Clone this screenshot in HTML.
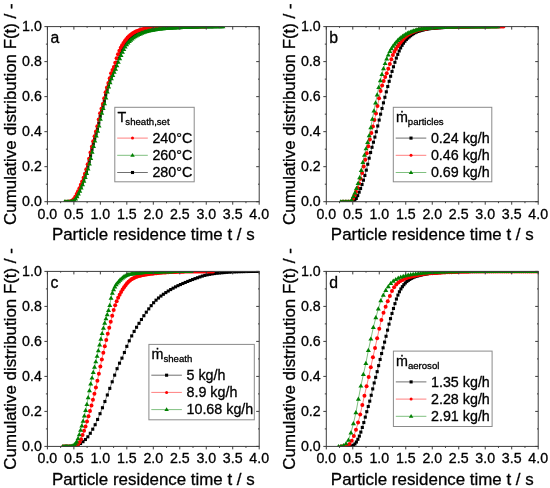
<!DOCTYPE html>
<html><head><meta charset="utf-8"><title>Cumulative distribution</title>
<style>html,body{margin:0;padding:0;background:#fff;} svg text{font-family:"Liberation Sans", Arial, Helvetica, sans-serif;fill:#000;stroke:#000;stroke-width:0.3px;} body{width:550px;height:488px;overflow:hidden;}</style>
</head><body>
<svg width="550" height="488" viewBox="0 0 550 488" style="display:block"><rect width="550" height="488" fill="#fff"/><clipPath id="cpa"><rect x="47.4" y="26.6" width="211.80" height="175.10"/></clipPath><g clip-path="url(#cpa)"><path d="M67.15 201.70 L68.53 201.70 L69.90 201.67 L71.28 201.40 L72.66 200.86 L74.03 199.65 L75.41 197.93 L76.79 195.44 L78.16 192.63 L79.54 189.71 L80.92 186.52 L82.29 183.14 L83.67 179.58 L85.05 175.72 L86.42 171.45 L87.80 166.77 L89.18 161.66 L90.55 155.72 L91.93 149.52 L93.31 143.98 L94.68 138.71 L96.06 133.78 L97.44 128.90 L98.81 123.04 L100.19 116.27 L101.57 110.90 L102.94 106.45 L104.32 101.31 L105.70 95.15 L107.07 89.74 L108.45 85.03 L109.83 80.78 L111.20 76.96 L112.58 73.42 L113.96 69.95 L115.33 66.33 L116.71 62.45 L118.09 58.52 L119.46 54.81 L120.84 51.59 L122.22 48.78 L123.60 46.26 L124.97 44.09 L126.35 42.28 L127.73 40.62 L129.10 39.13 L130.48 37.81 L131.86 36.67 L133.23 35.72 L134.61 34.84 L135.99 34.04 L137.36 33.32 L138.74 32.66 L140.12 32.08 L141.49 31.56 L142.87 31.11 L144.25 30.70 L145.62 30.32 L147.00 29.98 L148.38 29.66 L149.75 29.38 L151.13 29.12 L152.51 28.90 L153.88 28.70 L155.26 28.50 L156.64 28.32 L158.01 28.16 L159.39 28.01 L160.77 27.87 L162.14 27.76 L163.52 27.68 L164.90 27.61 L166.27 27.55 L167.65 27.49 L169.03 27.43 L170.40 27.38 L171.78 27.32 L173.16 27.27 L174.53 27.22 L175.91 27.17 L177.29 27.12 L178.66 27.07 L180.04 27.03 L181.42 26.99 L182.79 26.95 L184.17 26.91 L185.55 26.87 L186.92 26.84 L188.30 26.81 L189.68 26.78 L191.05 26.75 L192.43 26.72 L193.81 26.70 L195.18 26.68 L196.56 26.66 L197.94 26.65 L199.31 26.63 L200.69 26.62 L202.07 26.61 L203.44 26.61 L204.82 26.60 L206.20 26.60 L207.57 26.60 L208.95 26.60 L210.33 26.60 L211.70 26.60 L213.08 26.60" fill="none" stroke="#000000" stroke-width="0.5"/><g fill="#000000"><rect x="65.60" y="200.15" width="3.1" height="3.1"/><rect x="66.98" y="200.15" width="3.1" height="3.1"/><rect x="68.35" y="200.12" width="3.1" height="3.1"/><rect x="69.73" y="199.85" width="3.1" height="3.1"/><rect x="71.11" y="199.31" width="3.1" height="3.1"/><rect x="72.48" y="198.10" width="3.1" height="3.1"/><rect x="73.86" y="196.38" width="3.1" height="3.1"/><rect x="75.24" y="193.89" width="3.1" height="3.1"/><rect x="76.61" y="191.08" width="3.1" height="3.1"/><rect x="77.99" y="188.16" width="3.1" height="3.1"/><rect x="79.37" y="184.97" width="3.1" height="3.1"/><rect x="80.74" y="181.59" width="3.1" height="3.1"/><rect x="82.12" y="178.03" width="3.1" height="3.1"/><rect x="83.50" y="174.17" width="3.1" height="3.1"/><rect x="84.87" y="169.90" width="3.1" height="3.1"/><rect x="86.25" y="165.22" width="3.1" height="3.1"/><rect x="87.63" y="160.11" width="3.1" height="3.1"/><rect x="89.00" y="154.17" width="3.1" height="3.1"/><rect x="90.38" y="147.97" width="3.1" height="3.1"/><rect x="91.76" y="142.43" width="3.1" height="3.1"/><rect x="93.13" y="137.16" width="3.1" height="3.1"/><rect x="94.51" y="132.23" width="3.1" height="3.1"/><rect x="95.89" y="127.35" width="3.1" height="3.1"/><rect x="97.26" y="121.49" width="3.1" height="3.1"/><rect x="98.64" y="114.72" width="3.1" height="3.1"/><rect x="100.02" y="109.35" width="3.1" height="3.1"/><rect x="101.39" y="104.90" width="3.1" height="3.1"/><rect x="102.77" y="99.76" width="3.1" height="3.1"/><rect x="104.15" y="93.60" width="3.1" height="3.1"/><rect x="105.52" y="88.19" width="3.1" height="3.1"/><rect x="106.90" y="83.48" width="3.1" height="3.1"/><rect x="108.28" y="79.23" width="3.1" height="3.1"/><rect x="109.65" y="75.41" width="3.1" height="3.1"/><rect x="111.03" y="71.87" width="3.1" height="3.1"/><rect x="112.41" y="68.40" width="3.1" height="3.1"/><rect x="113.78" y="64.78" width="3.1" height="3.1"/><rect x="115.16" y="60.90" width="3.1" height="3.1"/><rect x="116.54" y="56.97" width="3.1" height="3.1"/><rect x="117.91" y="53.26" width="3.1" height="3.1"/><rect x="119.29" y="50.04" width="3.1" height="3.1"/><rect x="120.67" y="47.23" width="3.1" height="3.1"/><rect x="122.05" y="44.71" width="3.1" height="3.1"/><rect x="123.42" y="42.54" width="3.1" height="3.1"/><rect x="124.80" y="40.73" width="3.1" height="3.1"/><rect x="126.18" y="39.07" width="3.1" height="3.1"/><rect x="127.55" y="37.58" width="3.1" height="3.1"/><rect x="128.93" y="36.26" width="3.1" height="3.1"/><rect x="130.31" y="35.12" width="3.1" height="3.1"/><rect x="131.68" y="34.17" width="3.1" height="3.1"/><rect x="133.06" y="33.29" width="3.1" height="3.1"/><rect x="134.44" y="32.49" width="3.1" height="3.1"/><rect x="135.81" y="31.77" width="3.1" height="3.1"/><rect x="137.19" y="31.11" width="3.1" height="3.1"/><rect x="138.57" y="30.53" width="3.1" height="3.1"/><rect x="139.94" y="30.01" width="3.1" height="3.1"/><rect x="141.32" y="29.56" width="3.1" height="3.1"/><rect x="142.70" y="29.15" width="3.1" height="3.1"/><rect x="144.07" y="28.77" width="3.1" height="3.1"/><rect x="145.45" y="28.43" width="3.1" height="3.1"/><rect x="146.83" y="28.11" width="3.1" height="3.1"/><rect x="148.20" y="27.83" width="3.1" height="3.1"/><rect x="149.58" y="27.57" width="3.1" height="3.1"/><rect x="150.96" y="27.35" width="3.1" height="3.1"/><rect x="152.33" y="27.15" width="3.1" height="3.1"/><rect x="153.71" y="26.95" width="3.1" height="3.1"/><rect x="155.09" y="26.77" width="3.1" height="3.1"/><rect x="156.46" y="26.61" width="3.1" height="3.1"/><rect x="157.84" y="26.46" width="3.1" height="3.1"/><rect x="159.22" y="26.32" width="3.1" height="3.1"/><rect x="160.59" y="26.21" width="3.1" height="3.1"/><rect x="161.97" y="26.13" width="3.1" height="3.1"/><rect x="163.35" y="26.06" width="3.1" height="3.1"/><rect x="164.72" y="26.00" width="3.1" height="3.1"/><rect x="166.10" y="25.94" width="3.1" height="3.1"/><rect x="167.48" y="25.88" width="3.1" height="3.1"/><rect x="168.85" y="25.83" width="3.1" height="3.1"/><rect x="170.23" y="25.77" width="3.1" height="3.1"/><rect x="171.61" y="25.72" width="3.1" height="3.1"/><rect x="172.98" y="25.67" width="3.1" height="3.1"/><rect x="174.36" y="25.62" width="3.1" height="3.1"/><rect x="175.74" y="25.57" width="3.1" height="3.1"/><rect x="177.11" y="25.52" width="3.1" height="3.1"/><rect x="178.49" y="25.48" width="3.1" height="3.1"/><rect x="179.87" y="25.44" width="3.1" height="3.1"/><rect x="181.24" y="25.40" width="3.1" height="3.1"/><rect x="182.62" y="25.36" width="3.1" height="3.1"/><rect x="184.00" y="25.32" width="3.1" height="3.1"/><rect x="185.37" y="25.29" width="3.1" height="3.1"/><rect x="186.75" y="25.26" width="3.1" height="3.1"/><rect x="188.13" y="25.23" width="3.1" height="3.1"/><rect x="189.50" y="25.20" width="3.1" height="3.1"/><rect x="190.88" y="25.17" width="3.1" height="3.1"/><rect x="192.26" y="25.15" width="3.1" height="3.1"/><rect x="193.63" y="25.13" width="3.1" height="3.1"/><rect x="195.01" y="25.11" width="3.1" height="3.1"/><rect x="196.39" y="25.10" width="3.1" height="3.1"/><rect x="197.76" y="25.08" width="3.1" height="3.1"/><rect x="199.14" y="25.07" width="3.1" height="3.1"/><rect x="200.52" y="25.06" width="3.1" height="3.1"/><rect x="201.89" y="25.06" width="3.1" height="3.1"/><rect x="203.27" y="25.05" width="3.1" height="3.1"/><rect x="204.65" y="25.05" width="3.1" height="3.1"/><rect x="206.02" y="25.05" width="3.1" height="3.1"/><rect x="207.40" y="25.05" width="3.1" height="3.1"/><rect x="208.78" y="25.05" width="3.1" height="3.1"/><rect x="210.15" y="25.05" width="3.1" height="3.1"/><rect x="211.53" y="25.05" width="3.1" height="3.1"/></g><path d="M65.67 201.70 L67.04 201.70 L68.42 201.70 L69.80 201.57 L71.17 201.19 L72.55 200.33 L73.93 198.89 L75.30 196.76 L76.68 194.04 L78.06 191.22 L79.43 188.14 L80.81 184.84 L82.19 181.39 L83.56 177.70 L84.94 173.63 L86.32 169.16 L87.69 164.28 L89.07 158.83 L90.45 152.54 L91.83 146.71 L93.20 141.33 L94.58 136.19 L95.96 131.39 L97.33 126.19 L98.71 119.61 L100.09 113.36 L101.46 108.66 L102.84 104.07 L104.22 98.25 L105.59 92.29 L106.97 87.46 L108.35 83.00 L109.72 78.17 L111.10 73.33 L112.48 69.93 L113.85 66.90 L115.23 62.85 L116.61 58.37 L117.98 54.13 L119.36 50.74 L120.74 47.86 L122.11 45.28 L123.49 43.02 L124.87 41.06 L126.24 39.25 L127.62 37.61 L129.00 36.17 L130.37 34.97 L131.75 34.00 L133.13 33.12 L134.50 32.31 L135.88 31.59 L137.26 30.95 L138.63 30.40 L140.01 29.92 L141.39 29.53 L142.76 29.15 L144.14 28.80 L145.52 28.47 L146.89 28.17 L148.27 27.90 L149.65 27.67 L151.02 27.49 L152.40 27.36 L153.78 27.28 L155.15 27.21 L156.53 27.14 L157.91 27.08 L159.28 27.03 L160.66 26.97 L162.04 26.92 L163.41 26.87 L164.79 26.83 L166.17 26.79 L167.54 26.76 L168.92 26.72 L170.30 26.69 L171.67 26.67 L173.05 26.65 L174.43 26.63 L175.80 26.62 L177.18 26.61 L178.56 26.60 L179.93 26.60 L181.31 26.60 L182.69 26.60 L184.06 26.60 L185.44 26.60 L186.82 26.60 L188.19 26.60 L189.57 26.60 L190.95 26.60 L192.32 26.60 L193.70 26.60 L195.08 26.60 L196.45 26.60 L197.83 26.60 L199.21 26.60 L200.58 26.60 L201.96 26.60 L203.34 26.60 L204.71 26.60 L206.09 26.60" fill="none" stroke="#ff0000" stroke-width="0.5"/><g fill="#ff0000"><circle cx="65.67" cy="201.70" r="2.00"/><circle cx="67.04" cy="201.70" r="2.00"/><circle cx="68.42" cy="201.70" r="2.00"/><circle cx="69.80" cy="201.57" r="2.00"/><circle cx="71.17" cy="201.19" r="2.00"/><circle cx="72.55" cy="200.33" r="2.00"/><circle cx="73.93" cy="198.89" r="2.00"/><circle cx="75.30" cy="196.76" r="2.00"/><circle cx="76.68" cy="194.04" r="2.00"/><circle cx="78.06" cy="191.22" r="2.00"/><circle cx="79.43" cy="188.14" r="2.00"/><circle cx="80.81" cy="184.84" r="2.00"/><circle cx="82.19" cy="181.39" r="2.00"/><circle cx="83.56" cy="177.70" r="2.00"/><circle cx="84.94" cy="173.63" r="2.00"/><circle cx="86.32" cy="169.16" r="2.00"/><circle cx="87.69" cy="164.28" r="2.00"/><circle cx="89.07" cy="158.83" r="2.00"/><circle cx="90.45" cy="152.54" r="2.00"/><circle cx="91.83" cy="146.71" r="2.00"/><circle cx="93.20" cy="141.33" r="2.00"/><circle cx="94.58" cy="136.19" r="2.00"/><circle cx="95.96" cy="131.39" r="2.00"/><circle cx="97.33" cy="126.19" r="2.00"/><circle cx="98.71" cy="119.61" r="2.00"/><circle cx="100.09" cy="113.36" r="2.00"/><circle cx="101.46" cy="108.66" r="2.00"/><circle cx="102.84" cy="104.07" r="2.00"/><circle cx="104.22" cy="98.25" r="2.00"/><circle cx="105.59" cy="92.29" r="2.00"/><circle cx="106.97" cy="87.46" r="2.00"/><circle cx="108.35" cy="83.00" r="2.00"/><circle cx="109.72" cy="78.17" r="2.00"/><circle cx="111.10" cy="73.33" r="2.00"/><circle cx="112.48" cy="69.93" r="2.00"/><circle cx="113.85" cy="66.90" r="2.00"/><circle cx="115.23" cy="62.85" r="2.00"/><circle cx="116.61" cy="58.37" r="2.00"/><circle cx="117.98" cy="54.13" r="2.00"/><circle cx="119.36" cy="50.74" r="2.00"/><circle cx="120.74" cy="47.86" r="2.00"/><circle cx="122.11" cy="45.28" r="2.00"/><circle cx="123.49" cy="43.02" r="2.00"/><circle cx="124.87" cy="41.06" r="2.00"/><circle cx="126.24" cy="39.25" r="2.00"/><circle cx="127.62" cy="37.61" r="2.00"/><circle cx="129.00" cy="36.17" r="2.00"/><circle cx="130.37" cy="34.97" r="2.00"/><circle cx="131.75" cy="34.00" r="2.00"/><circle cx="133.13" cy="33.12" r="2.00"/><circle cx="134.50" cy="32.31" r="2.00"/><circle cx="135.88" cy="31.59" r="2.00"/><circle cx="137.26" cy="30.95" r="2.00"/><circle cx="138.63" cy="30.40" r="2.00"/><circle cx="140.01" cy="29.92" r="2.00"/><circle cx="141.39" cy="29.53" r="2.00"/><circle cx="142.76" cy="29.15" r="2.00"/><circle cx="144.14" cy="28.80" r="2.00"/><circle cx="145.52" cy="28.47" r="2.00"/><circle cx="146.89" cy="28.17" r="2.00"/><circle cx="148.27" cy="27.90" r="2.00"/><circle cx="149.65" cy="27.67" r="2.00"/><circle cx="151.02" cy="27.49" r="2.00"/><circle cx="152.40" cy="27.36" r="2.00"/><circle cx="153.78" cy="27.28" r="2.00"/><circle cx="155.15" cy="27.21" r="2.00"/><circle cx="156.53" cy="27.14" r="2.00"/><circle cx="157.91" cy="27.08" r="2.00"/><circle cx="159.28" cy="27.03" r="2.00"/><circle cx="160.66" cy="26.97" r="2.00"/><circle cx="162.04" cy="26.92" r="2.00"/><circle cx="163.41" cy="26.87" r="2.00"/><circle cx="164.79" cy="26.83" r="2.00"/><circle cx="166.17" cy="26.79" r="2.00"/><circle cx="167.54" cy="26.76" r="2.00"/><circle cx="168.92" cy="26.72" r="2.00"/><circle cx="170.30" cy="26.69" r="2.00"/><circle cx="171.67" cy="26.67" r="2.00"/><circle cx="173.05" cy="26.65" r="2.00"/><circle cx="174.43" cy="26.63" r="2.00"/><circle cx="175.80" cy="26.62" r="2.00"/><circle cx="177.18" cy="26.61" r="2.00"/><circle cx="178.56" cy="26.60" r="2.00"/><circle cx="179.93" cy="26.60" r="2.00"/><circle cx="181.31" cy="26.60" r="2.00"/><circle cx="182.69" cy="26.60" r="2.00"/><circle cx="184.06" cy="26.60" r="2.00"/><circle cx="185.44" cy="26.60" r="2.00"/><circle cx="186.82" cy="26.60" r="2.00"/><circle cx="188.19" cy="26.60" r="2.00"/><circle cx="189.57" cy="26.60" r="2.00"/><circle cx="190.95" cy="26.60" r="2.00"/><circle cx="192.32" cy="26.60" r="2.00"/><circle cx="193.70" cy="26.60" r="2.00"/><circle cx="195.08" cy="26.60" r="2.00"/><circle cx="196.45" cy="26.60" r="2.00"/><circle cx="197.83" cy="26.60" r="2.00"/><circle cx="199.21" cy="26.60" r="2.00"/><circle cx="200.58" cy="26.60" r="2.00"/><circle cx="201.96" cy="26.60" r="2.00"/><circle cx="203.34" cy="26.60" r="2.00"/><circle cx="204.71" cy="26.60" r="2.00"/><circle cx="206.09" cy="26.60" r="2.00"/></g><path d="M64.61 201.70 L65.99 201.70 L67.36 201.70 L68.74 201.70 L70.12 201.70 L71.49 201.54 L72.87 201.16 L74.25 200.23 L75.62 198.76 L77.00 196.57 L78.38 193.83 L79.75 190.99 L81.13 187.90 L82.51 184.58 L83.88 181.11 L85.26 177.40 L86.64 173.30 L88.01 168.80 L89.39 163.88 L90.77 158.36 L92.14 152.06 L93.52 146.28 L94.90 140.92 L96.27 135.81 L97.65 131.02 L99.03 125.74 L100.40 119.08 L101.78 112.96 L103.16 108.33 L104.53 103.67 L105.91 97.77 L107.29 91.89 L108.66 86.92 L110.04 82.49 L111.42 78.68 L112.79 75.32 L114.17 72.17 L115.55 69.03 L116.92 65.69 L118.30 62.16 L119.68 58.60 L121.05 55.20 L122.43 52.14 L123.81 49.40 L125.18 46.85 L126.56 44.64 L127.94 42.89 L129.31 41.36 L130.69 39.98 L132.07 38.74 L133.44 37.65 L134.82 36.69 L136.20 35.86 L137.57 35.09 L138.95 34.38 L140.33 33.72 L141.70 33.12 L143.08 32.57 L144.46 32.07 L145.83 31.64 L147.21 31.26 L148.59 30.91 L149.96 30.59 L151.34 30.29 L152.72 30.01 L154.09 29.75 L155.47 29.52 L156.85 29.30 L158.22 29.11 L159.60 28.94 L160.98 28.79 L162.35 28.65 L163.73 28.52 L165.11 28.40 L166.48 28.29 L167.86 28.18 L169.24 28.08 L170.61 27.99 L171.99 27.90 L173.37 27.82 L174.74 27.75 L176.12 27.67 L177.50 27.61 L178.87 27.54 L180.25 27.47 L181.63 27.40 L183.00 27.33 L184.38 27.26 L185.76 27.19 L187.14 27.13 L188.51 27.07 L189.89 27.01 L191.27 26.95 L192.64 26.89 L194.02 26.84 L195.40 26.79 L196.77 26.75 L198.15 26.71 L199.53 26.68 L200.90 26.65 L202.28 26.63 L203.66 26.61 L205.03 26.60 L206.41 26.60 L207.79 26.60 L209.16 26.60 L210.54 26.60 L211.92 26.60 L213.29 26.60 L214.67 26.60 L216.05 26.60 L217.42 26.60 L218.80 26.60 L220.18 26.60 L221.55 26.60 L222.93 26.60" fill="none" stroke="#008000" stroke-width="0.5"/><g fill="#008000"><path d="M64.61 199.18L67.11 203.38L62.11 203.38Z"/><path d="M65.99 199.18L68.49 203.38L63.49 203.38Z"/><path d="M67.36 199.18L69.86 203.38L64.86 203.38Z"/><path d="M68.74 199.18L71.24 203.38L66.24 203.38Z"/><path d="M70.12 199.18L72.62 203.38L67.62 203.38Z"/><path d="M71.49 199.02L73.99 203.22L68.99 203.22Z"/><path d="M72.87 198.64L75.37 202.84L70.37 202.84Z"/><path d="M74.25 197.71L76.75 201.91L71.75 201.91Z"/><path d="M75.62 196.24L78.12 200.44L73.12 200.44Z"/><path d="M77.00 194.05L79.50 198.25L74.50 198.25Z"/><path d="M78.38 191.31L80.88 195.51L75.88 195.51Z"/><path d="M79.75 188.47L82.25 192.67L77.25 192.67Z"/><path d="M81.13 185.38L83.63 189.58L78.63 189.58Z"/><path d="M82.51 182.06L85.01 186.26L80.01 186.26Z"/><path d="M83.88 178.59L86.38 182.79L81.38 182.79Z"/><path d="M85.26 174.88L87.76 179.08L82.76 179.08Z"/><path d="M86.64 170.78L89.14 174.98L84.14 174.98Z"/><path d="M88.01 166.28L90.51 170.48L85.51 170.48Z"/><path d="M89.39 161.36L91.89 165.56L86.89 165.56Z"/><path d="M90.77 155.84L93.27 160.04L88.27 160.04Z"/><path d="M92.14 149.54L94.64 153.74L89.64 153.74Z"/><path d="M93.52 143.76L96.02 147.96L91.02 147.96Z"/><path d="M94.90 138.40L97.40 142.60L92.40 142.60Z"/><path d="M96.27 133.29L98.77 137.49L93.77 137.49Z"/><path d="M97.65 128.50L100.15 132.70L95.15 132.70Z"/><path d="M99.03 123.22L101.53 127.42L96.53 127.42Z"/><path d="M100.40 116.56L102.90 120.76L97.90 120.76Z"/><path d="M101.78 110.44L104.28 114.64L99.28 114.64Z"/><path d="M103.16 105.81L105.66 110.01L100.66 110.01Z"/><path d="M104.53 101.15L107.03 105.35L102.03 105.35Z"/><path d="M105.91 95.25L108.41 99.45L103.41 99.45Z"/><path d="M107.29 89.37L109.79 93.57L104.79 93.57Z"/><path d="M108.66 84.40L111.16 88.60L106.16 88.60Z"/><path d="M110.04 79.97L112.54 84.17L107.54 84.17Z"/><path d="M111.42 76.16L113.92 80.36L108.92 80.36Z"/><path d="M112.79 72.80L115.29 77.00L110.29 77.00Z"/><path d="M114.17 69.65L116.67 73.85L111.67 73.85Z"/><path d="M115.55 66.51L118.05 70.71L113.05 70.71Z"/><path d="M116.92 63.17L119.42 67.37L114.42 67.37Z"/><path d="M118.30 59.64L120.80 63.84L115.80 63.84Z"/><path d="M119.68 56.08L122.18 60.28L117.18 60.28Z"/><path d="M121.05 52.68L123.55 56.88L118.55 56.88Z"/><path d="M122.43 49.62L124.93 53.82L119.93 53.82Z"/><path d="M123.81 46.88L126.31 51.08L121.31 51.08Z"/><path d="M125.18 44.33L127.68 48.53L122.68 48.53Z"/><path d="M126.56 42.12L129.06 46.32L124.06 46.32Z"/><path d="M127.94 40.37L130.44 44.57L125.44 44.57Z"/><path d="M129.31 38.84L131.81 43.04L126.81 43.04Z"/><path d="M130.69 37.46L133.19 41.66L128.19 41.66Z"/><path d="M132.07 36.22L134.57 40.42L129.57 40.42Z"/><path d="M133.44 35.13L135.94 39.33L130.94 39.33Z"/><path d="M134.82 34.17L137.32 38.37L132.32 38.37Z"/><path d="M136.20 33.34L138.70 37.54L133.70 37.54Z"/><path d="M137.57 32.57L140.07 36.77L135.07 36.77Z"/><path d="M138.95 31.86L141.45 36.06L136.45 36.06Z"/><path d="M140.33 31.20L142.83 35.40L137.83 35.40Z"/><path d="M141.70 30.60L144.20 34.80L139.20 34.80Z"/><path d="M143.08 30.05L145.58 34.25L140.58 34.25Z"/><path d="M144.46 29.55L146.96 33.75L141.96 33.75Z"/><path d="M145.83 29.12L148.33 33.32L143.33 33.32Z"/><path d="M147.21 28.74L149.71 32.94L144.71 32.94Z"/><path d="M148.59 28.39L151.09 32.59L146.09 32.59Z"/><path d="M149.96 28.07L152.46 32.27L147.46 32.27Z"/><path d="M151.34 27.77L153.84 31.97L148.84 31.97Z"/><path d="M152.72 27.49L155.22 31.69L150.22 31.69Z"/><path d="M154.09 27.23L156.59 31.43L151.59 31.43Z"/><path d="M155.47 27.00L157.97 31.20L152.97 31.20Z"/><path d="M156.85 26.78L159.35 30.98L154.35 30.98Z"/><path d="M158.22 26.59L160.72 30.79L155.72 30.79Z"/><path d="M159.60 26.42L162.10 30.62L157.10 30.62Z"/><path d="M160.98 26.27L163.48 30.47L158.48 30.47Z"/><path d="M162.35 26.13L164.85 30.33L159.85 30.33Z"/><path d="M163.73 26.00L166.23 30.20L161.23 30.20Z"/><path d="M165.11 25.88L167.61 30.08L162.61 30.08Z"/><path d="M166.48 25.77L168.98 29.97L163.98 29.97Z"/><path d="M167.86 25.66L170.36 29.86L165.36 29.86Z"/><path d="M169.24 25.56L171.74 29.76L166.74 29.76Z"/><path d="M170.61 25.47L173.11 29.67L168.11 29.67Z"/><path d="M171.99 25.38L174.49 29.58L169.49 29.58Z"/><path d="M173.37 25.30L175.87 29.50L170.87 29.50Z"/><path d="M174.74 25.23L177.24 29.43L172.24 29.43Z"/><path d="M176.12 25.15L178.62 29.35L173.62 29.35Z"/><path d="M177.50 25.09L180.00 29.29L175.00 29.29Z"/><path d="M178.87 25.02L181.37 29.22L176.37 29.22Z"/><path d="M180.25 24.95L182.75 29.15L177.75 29.15Z"/><path d="M181.63 24.88L184.13 29.08L179.13 29.08Z"/><path d="M183.00 24.81L185.50 29.01L180.50 29.01Z"/><path d="M184.38 24.74L186.88 28.94L181.88 28.94Z"/><path d="M185.76 24.67L188.26 28.87L183.26 28.87Z"/><path d="M187.14 24.61L189.64 28.81L184.64 28.81Z"/><path d="M188.51 24.55L191.01 28.75L186.01 28.75Z"/><path d="M189.89 24.49L192.39 28.69L187.39 28.69Z"/><path d="M191.27 24.43L193.77 28.63L188.77 28.63Z"/><path d="M192.64 24.37L195.14 28.57L190.14 28.57Z"/><path d="M194.02 24.32L196.52 28.52L191.52 28.52Z"/><path d="M195.40 24.27L197.90 28.47L192.90 28.47Z"/><path d="M196.77 24.23L199.27 28.43L194.27 28.43Z"/><path d="M198.15 24.19L200.65 28.39L195.65 28.39Z"/><path d="M199.53 24.16L202.03 28.36L197.03 28.36Z"/><path d="M200.90 24.13L203.40 28.33L198.40 28.33Z"/><path d="M202.28 24.11L204.78 28.31L199.78 28.31Z"/><path d="M203.66 24.09L206.16 28.29L201.16 28.29Z"/><path d="M205.03 24.08L207.53 28.28L202.53 28.28Z"/><path d="M206.41 24.08L208.91 28.28L203.91 28.28Z"/><path d="M207.79 24.08L210.29 28.28L205.29 28.28Z"/><path d="M209.16 24.08L211.66 28.28L206.66 28.28Z"/><path d="M210.54 24.08L213.04 28.28L208.04 28.28Z"/><path d="M211.92 24.08L214.42 28.28L209.42 28.28Z"/><path d="M213.29 24.08L215.79 28.28L210.79 28.28Z"/><path d="M214.67 24.08L217.17 28.28L212.17 28.28Z"/><path d="M216.05 24.08L218.55 28.28L213.55 28.28Z"/><path d="M217.42 24.08L219.92 28.28L214.92 28.28Z"/><path d="M218.80 24.08L221.30 28.28L216.30 28.28Z"/><path d="M220.18 24.08L222.68 28.28L217.68 28.28Z"/><path d="M221.55 24.08L224.05 28.28L219.05 28.28Z"/><path d="M222.93 24.08L225.43 28.28L220.43 28.28Z"/></g></g><rect x="47.4" y="26.6" width="211.80" height="175.10" fill="none" stroke="#3c3c3c" stroke-width="1"/><path d="M47.40 201.7v3M47.40 26.6v3M60.64 201.7v1.5M60.64 26.6v1.2M73.88 201.7v3M73.88 26.6v3M87.11 201.7v1.5M87.11 26.6v1.2M100.35 201.7v3M100.35 26.6v3M113.59 201.7v1.5M113.59 26.6v1.2M126.82 201.7v3M126.82 26.6v3M140.06 201.7v1.5M140.06 26.6v1.2M153.30 201.7v3M153.30 26.6v3M166.54 201.7v1.5M166.54 26.6v1.2M179.78 201.7v3M179.78 26.6v3M193.01 201.7v1.5M193.01 26.6v1.2M206.25 201.7v3M206.25 26.6v3M219.49 201.7v1.5M219.49 26.6v1.2M232.72 201.7v3M232.72 26.6v3M245.96 201.7v1.5M245.96 26.6v1.2M259.20 201.7v3M259.20 26.6v3M47.4 201.70h-3M259.2 201.70h-3M47.4 184.19h-1.5M259.2 184.19h-1.2M47.4 166.68h-3M259.2 166.68h-3M47.4 149.17h-1.5M259.2 149.17h-1.2M47.4 131.66h-3M259.2 131.66h-3M47.4 114.15h-1.5M259.2 114.15h-1.2M47.4 96.64h-3M259.2 96.64h-3M47.4 79.13h-1.5M259.2 79.13h-1.2M47.4 61.62h-3M259.2 61.62h-3M47.4 44.11h-1.5M259.2 44.11h-1.2M47.4 26.60h-3M259.2 26.60h-3" stroke="#3c3c3c" stroke-width="1" fill="none"/><g font-family='"Liberation Sans", Arial, Helvetica, sans-serif' font-size="14.2" fill="#000"><text x="47.40" y="218.70" text-anchor="middle">0.0</text><text x="73.88" y="218.70" text-anchor="middle">0.5</text><text x="100.35" y="218.70" text-anchor="middle">1.0</text><text x="126.82" y="218.70" text-anchor="middle">1.5</text><text x="153.30" y="218.70" text-anchor="middle">2.0</text><text x="179.78" y="218.70" text-anchor="middle">2.5</text><text x="206.25" y="218.70" text-anchor="middle">3.0</text><text x="232.72" y="218.70" text-anchor="middle">3.5</text><text x="259.20" y="218.70" text-anchor="middle">4.0</text><text x="41.80" y="206.30" text-anchor="end">0.0</text><text x="41.80" y="171.28" text-anchor="end">0.2</text><text x="41.80" y="136.26" text-anchor="end">0.4</text><text x="41.80" y="101.24" text-anchor="end">0.6</text><text x="41.80" y="66.22" text-anchor="end">0.8</text><text x="41.80" y="31.20" text-anchor="end">1.0</text></g><text x="153.30" y="240.10" text-anchor="middle" font-family='"Liberation Sans", Arial, Helvetica, sans-serif' font-size="16.9">Particle residence time t / s</text><text transform="translate(16.00 114.15) rotate(-90)" x="0" y="0" text-anchor="middle" font-family='"Liberation Sans", Arial, Helvetica, sans-serif' font-size="16.9">Cumulative distribution F(t) / -</text><text x="50.40" y="42.90" font-family='"Liberation Sans", Arial, Helvetica, sans-serif' font-size="15.8">a</text><rect x="114.8" y="107.3" width="79.40" height="74.50" fill="#fff" stroke="#8a8a8a" stroke-width="1"/><text x="117.40" y="121.70" font-family='"Liberation Sans", Arial, Helvetica, sans-serif' font-size="14.3">T<tspan font-size="9.6" dx="-0.8" dy="3.6">sheath,set</tspan></text><path d="M117.20 138.10H147.80" stroke="#ff8080" stroke-width="1"/><g fill="#ff0000"><circle cx="132.50" cy="138.10" r="1.50"/></g><text x="152.40" y="142.90" font-family='"Liberation Sans", Arial, Helvetica, sans-serif' font-size="14.3">240°C</text><path d="M117.20 155.30H147.80" stroke="#80c080" stroke-width="1"/><g fill="#008000"><path d="M132.50 153.03L134.75 156.81L130.25 156.81Z"/></g><text x="152.40" y="160.10" font-family='"Liberation Sans", Arial, Helvetica, sans-serif' font-size="14.3">260°C</text><path d="M117.20 172.50H147.80" stroke="#707070" stroke-width="1"/><g fill="#000000"><rect x="130.95" y="170.95" width="3.1" height="3.1"/></g><text x="152.40" y="177.30" font-family='"Liberation Sans", Arial, Helvetica, sans-serif' font-size="14.3">280°C</text><clipPath id="cpb"><rect x="326.3" y="26.6" width="211.90" height="175.10"/></clipPath><g clip-path="url(#cpb)"><path d="M344.84 201.70 L346.27 201.70 L347.70 201.70 L349.13 201.70 L350.56 201.70 L351.99 201.70 L353.42 201.53 L354.85 200.25 L356.28 198.44 L357.71 195.63 L359.14 192.15 L360.57 188.52 L362.01 184.54 L363.44 180.17 L364.87 175.45 L366.30 170.14 L367.73 164.22 L369.16 158.18 L370.59 152.52 L372.02 147.28 L373.45 142.21 L374.88 137.09 L376.31 131.72 L377.74 125.98 L379.17 120.06 L380.60 114.17 L382.03 108.48 L383.46 102.84 L384.89 97.28 L386.32 91.83 L387.75 86.52 L389.18 81.32 L390.61 76.26 L392.04 71.42 L393.47 66.77 L394.90 62.26 L396.33 58.08 L397.76 54.39 L399.19 50.98 L400.62 47.92 L402.05 45.34 L403.48 43.15 L404.91 41.20 L406.35 39.51 L407.78 38.08 L409.21 36.83 L410.64 35.66 L412.07 34.58 L413.50 33.61 L414.93 32.76 L416.36 32.04 L417.79 31.48 L419.22 31.02 L420.65 30.59 L422.08 30.19 L423.51 29.82 L424.94 29.49 L426.37 29.19 L427.80 28.93 L429.23 28.71 L430.66 28.52 L432.09 28.37 L433.52 28.24 L434.95 28.12 L436.38 28.00 L437.81 27.89 L439.24 27.79 L440.67 27.70 L442.10 27.61 L443.53 27.52 L444.96 27.44 L446.39 27.37 L447.82 27.30 L449.25 27.24 L450.69 27.18 L452.12 27.13 L453.55 27.08 L454.98 27.04 L456.41 27.00 L457.84 26.97 L459.27 26.94 L460.70 26.91 L462.13 26.89 L463.56 26.86 L464.99 26.84 L466.42 26.82 L467.85 26.79 L469.28 26.77 L470.71 26.75 L472.14 26.73 L473.57 26.71 L475.00 26.70 L476.43 26.68 L477.86 26.67 L479.29 26.65 L480.72 26.64 L482.15 26.63 L483.58 26.62 L485.01 26.61 L486.44 26.61 L487.87 26.60 L489.30 26.60" fill="none" stroke="#000000" stroke-width="0.5"/><g fill="#000000"><rect x="343.29" y="200.15" width="3.1" height="3.1"/><rect x="344.72" y="200.15" width="3.1" height="3.1"/><rect x="346.15" y="200.15" width="3.1" height="3.1"/><rect x="347.58" y="200.15" width="3.1" height="3.1"/><rect x="349.01" y="200.15" width="3.1" height="3.1"/><rect x="350.44" y="200.15" width="3.1" height="3.1"/><rect x="351.87" y="199.98" width="3.1" height="3.1"/><rect x="353.30" y="198.70" width="3.1" height="3.1"/><rect x="354.73" y="196.89" width="3.1" height="3.1"/><rect x="356.16" y="194.08" width="3.1" height="3.1"/><rect x="357.59" y="190.60" width="3.1" height="3.1"/><rect x="359.02" y="186.97" width="3.1" height="3.1"/><rect x="360.46" y="182.99" width="3.1" height="3.1"/><rect x="361.89" y="178.62" width="3.1" height="3.1"/><rect x="363.32" y="173.90" width="3.1" height="3.1"/><rect x="364.75" y="168.59" width="3.1" height="3.1"/><rect x="366.18" y="162.67" width="3.1" height="3.1"/><rect x="367.61" y="156.63" width="3.1" height="3.1"/><rect x="369.04" y="150.97" width="3.1" height="3.1"/><rect x="370.47" y="145.73" width="3.1" height="3.1"/><rect x="371.90" y="140.66" width="3.1" height="3.1"/><rect x="373.33" y="135.54" width="3.1" height="3.1"/><rect x="374.76" y="130.17" width="3.1" height="3.1"/><rect x="376.19" y="124.43" width="3.1" height="3.1"/><rect x="377.62" y="118.51" width="3.1" height="3.1"/><rect x="379.05" y="112.62" width="3.1" height="3.1"/><rect x="380.48" y="106.93" width="3.1" height="3.1"/><rect x="381.91" y="101.29" width="3.1" height="3.1"/><rect x="383.34" y="95.73" width="3.1" height="3.1"/><rect x="384.77" y="90.28" width="3.1" height="3.1"/><rect x="386.20" y="84.97" width="3.1" height="3.1"/><rect x="387.63" y="79.77" width="3.1" height="3.1"/><rect x="389.06" y="74.71" width="3.1" height="3.1"/><rect x="390.49" y="69.87" width="3.1" height="3.1"/><rect x="391.92" y="65.22" width="3.1" height="3.1"/><rect x="393.35" y="60.71" width="3.1" height="3.1"/><rect x="394.78" y="56.53" width="3.1" height="3.1"/><rect x="396.21" y="52.84" width="3.1" height="3.1"/><rect x="397.64" y="49.43" width="3.1" height="3.1"/><rect x="399.07" y="46.37" width="3.1" height="3.1"/><rect x="400.50" y="43.79" width="3.1" height="3.1"/><rect x="401.93" y="41.60" width="3.1" height="3.1"/><rect x="403.36" y="39.65" width="3.1" height="3.1"/><rect x="404.80" y="37.96" width="3.1" height="3.1"/><rect x="406.23" y="36.53" width="3.1" height="3.1"/><rect x="407.66" y="35.28" width="3.1" height="3.1"/><rect x="409.09" y="34.11" width="3.1" height="3.1"/><rect x="410.52" y="33.03" width="3.1" height="3.1"/><rect x="411.95" y="32.06" width="3.1" height="3.1"/><rect x="413.38" y="31.21" width="3.1" height="3.1"/><rect x="414.81" y="30.49" width="3.1" height="3.1"/><rect x="416.24" y="29.93" width="3.1" height="3.1"/><rect x="417.67" y="29.47" width="3.1" height="3.1"/><rect x="419.10" y="29.04" width="3.1" height="3.1"/><rect x="420.53" y="28.64" width="3.1" height="3.1"/><rect x="421.96" y="28.27" width="3.1" height="3.1"/><rect x="423.39" y="27.94" width="3.1" height="3.1"/><rect x="424.82" y="27.64" width="3.1" height="3.1"/><rect x="426.25" y="27.38" width="3.1" height="3.1"/><rect x="427.68" y="27.16" width="3.1" height="3.1"/><rect x="429.11" y="26.97" width="3.1" height="3.1"/><rect x="430.54" y="26.82" width="3.1" height="3.1"/><rect x="431.97" y="26.69" width="3.1" height="3.1"/><rect x="433.40" y="26.57" width="3.1" height="3.1"/><rect x="434.83" y="26.45" width="3.1" height="3.1"/><rect x="436.26" y="26.34" width="3.1" height="3.1"/><rect x="437.69" y="26.24" width="3.1" height="3.1"/><rect x="439.12" y="26.15" width="3.1" height="3.1"/><rect x="440.55" y="26.06" width="3.1" height="3.1"/><rect x="441.98" y="25.97" width="3.1" height="3.1"/><rect x="443.41" y="25.89" width="3.1" height="3.1"/><rect x="444.84" y="25.82" width="3.1" height="3.1"/><rect x="446.27" y="25.75" width="3.1" height="3.1"/><rect x="447.70" y="25.69" width="3.1" height="3.1"/><rect x="449.14" y="25.63" width="3.1" height="3.1"/><rect x="450.57" y="25.58" width="3.1" height="3.1"/><rect x="452.00" y="25.53" width="3.1" height="3.1"/><rect x="453.43" y="25.49" width="3.1" height="3.1"/><rect x="454.86" y="25.45" width="3.1" height="3.1"/><rect x="456.29" y="25.42" width="3.1" height="3.1"/><rect x="457.72" y="25.39" width="3.1" height="3.1"/><rect x="459.15" y="25.36" width="3.1" height="3.1"/><rect x="460.58" y="25.34" width="3.1" height="3.1"/><rect x="462.01" y="25.31" width="3.1" height="3.1"/><rect x="463.44" y="25.29" width="3.1" height="3.1"/><rect x="464.87" y="25.27" width="3.1" height="3.1"/><rect x="466.30" y="25.24" width="3.1" height="3.1"/><rect x="467.73" y="25.22" width="3.1" height="3.1"/><rect x="469.16" y="25.20" width="3.1" height="3.1"/><rect x="470.59" y="25.18" width="3.1" height="3.1"/><rect x="472.02" y="25.16" width="3.1" height="3.1"/><rect x="473.45" y="25.15" width="3.1" height="3.1"/><rect x="474.88" y="25.13" width="3.1" height="3.1"/><rect x="476.31" y="25.12" width="3.1" height="3.1"/><rect x="477.74" y="25.10" width="3.1" height="3.1"/><rect x="479.17" y="25.09" width="3.1" height="3.1"/><rect x="480.60" y="25.08" width="3.1" height="3.1"/><rect x="482.03" y="25.07" width="3.1" height="3.1"/><rect x="483.46" y="25.06" width="3.1" height="3.1"/><rect x="484.89" y="25.06" width="3.1" height="3.1"/><rect x="486.32" y="25.05" width="3.1" height="3.1"/><rect x="487.75" y="25.05" width="3.1" height="3.1"/></g><path d="M342.19 201.70 L343.73 201.70 L345.27 201.70 L346.80 201.70 L348.34 201.70 L349.87 201.70 L351.41 201.34 L352.95 198.87 L354.48 195.25 L356.02 191.76 L357.56 187.95 L359.09 183.62 L360.63 178.75 L362.16 172.93 L363.70 166.45 L365.24 159.85 L366.77 153.18 L368.31 146.29 L369.85 139.46 L371.38 132.89 L372.92 126.50 L374.45 120.10 L375.99 113.44 L377.53 106.02 L379.06 98.27 L380.60 91.11 L382.14 85.43 L383.67 80.96 L385.21 77.04 L386.74 73.15 L388.28 68.80 L389.82 64.02 L391.35 59.26 L392.89 54.99 L394.43 51.64 L395.96 48.88 L397.50 46.47 L399.03 44.34 L400.57 42.38 L402.11 40.48 L403.64 38.69 L405.18 37.07 L406.72 35.68 L408.25 34.58 L409.79 33.69 L411.32 32.86 L412.86 32.10 L414.40 31.41 L415.93 30.80 L417.47 30.26 L419.01 29.80 L420.54 29.44 L422.08 29.16 L423.62 28.91 L425.15 28.68 L426.69 28.47 L428.22 28.27 L429.76 28.08 L431.30 27.91 L432.83 27.76 L434.37 27.62 L435.91 27.49 L437.44 27.38 L438.98 27.29 L440.51 27.21 L442.05 27.15 L443.59 27.10 L445.12 27.06 L446.66 27.02 L448.20 26.98 L449.73 26.94 L451.27 26.90 L452.80 26.86 L454.34 26.83 L455.88 26.80 L457.41 26.77 L458.95 26.74 L460.49 26.72 L462.02 26.69 L463.56 26.67 L465.09 26.65 L466.63 26.64 L468.17 26.63 L469.70 26.61 L471.24 26.61 L472.78 26.60 L474.31 26.60 L475.85 26.60 L477.38 26.60 L478.92 26.60 L480.46 26.60 L481.99 26.60 L483.53 26.60 L485.07 26.60 L486.60 26.60 L488.14 26.60 L489.67 26.60 L491.21 26.60 L492.75 26.60 L494.28 26.60 L495.82 26.60 L497.36 26.60 L498.89 26.60 L500.43 26.60 L501.97 26.60 L503.50 26.60" fill="none" stroke="#ff0000" stroke-width="0.5"/><g fill="#ff0000"><circle cx="342.19" cy="201.70" r="2.00"/><circle cx="343.73" cy="201.70" r="2.00"/><circle cx="345.27" cy="201.70" r="2.00"/><circle cx="346.80" cy="201.70" r="2.00"/><circle cx="348.34" cy="201.70" r="2.00"/><circle cx="349.87" cy="201.70" r="2.00"/><circle cx="351.41" cy="201.34" r="2.00"/><circle cx="352.95" cy="198.87" r="2.00"/><circle cx="354.48" cy="195.25" r="2.00"/><circle cx="356.02" cy="191.76" r="2.00"/><circle cx="357.56" cy="187.95" r="2.00"/><circle cx="359.09" cy="183.62" r="2.00"/><circle cx="360.63" cy="178.75" r="2.00"/><circle cx="362.16" cy="172.93" r="2.00"/><circle cx="363.70" cy="166.45" r="2.00"/><circle cx="365.24" cy="159.85" r="2.00"/><circle cx="366.77" cy="153.18" r="2.00"/><circle cx="368.31" cy="146.29" r="2.00"/><circle cx="369.85" cy="139.46" r="2.00"/><circle cx="371.38" cy="132.89" r="2.00"/><circle cx="372.92" cy="126.50" r="2.00"/><circle cx="374.45" cy="120.10" r="2.00"/><circle cx="375.99" cy="113.44" r="2.00"/><circle cx="377.53" cy="106.02" r="2.00"/><circle cx="379.06" cy="98.27" r="2.00"/><circle cx="380.60" cy="91.11" r="2.00"/><circle cx="382.14" cy="85.43" r="2.00"/><circle cx="383.67" cy="80.96" r="2.00"/><circle cx="385.21" cy="77.04" r="2.00"/><circle cx="386.74" cy="73.15" r="2.00"/><circle cx="388.28" cy="68.80" r="2.00"/><circle cx="389.82" cy="64.02" r="2.00"/><circle cx="391.35" cy="59.26" r="2.00"/><circle cx="392.89" cy="54.99" r="2.00"/><circle cx="394.43" cy="51.64" r="2.00"/><circle cx="395.96" cy="48.88" r="2.00"/><circle cx="397.50" cy="46.47" r="2.00"/><circle cx="399.03" cy="44.34" r="2.00"/><circle cx="400.57" cy="42.38" r="2.00"/><circle cx="402.11" cy="40.48" r="2.00"/><circle cx="403.64" cy="38.69" r="2.00"/><circle cx="405.18" cy="37.07" r="2.00"/><circle cx="406.72" cy="35.68" r="2.00"/><circle cx="408.25" cy="34.58" r="2.00"/><circle cx="409.79" cy="33.69" r="2.00"/><circle cx="411.32" cy="32.86" r="2.00"/><circle cx="412.86" cy="32.10" r="2.00"/><circle cx="414.40" cy="31.41" r="2.00"/><circle cx="415.93" cy="30.80" r="2.00"/><circle cx="417.47" cy="30.26" r="2.00"/><circle cx="419.01" cy="29.80" r="2.00"/><circle cx="420.54" cy="29.44" r="2.00"/><circle cx="422.08" cy="29.16" r="2.00"/><circle cx="423.62" cy="28.91" r="2.00"/><circle cx="425.15" cy="28.68" r="2.00"/><circle cx="426.69" cy="28.47" r="2.00"/><circle cx="428.22" cy="28.27" r="2.00"/><circle cx="429.76" cy="28.08" r="2.00"/><circle cx="431.30" cy="27.91" r="2.00"/><circle cx="432.83" cy="27.76" r="2.00"/><circle cx="434.37" cy="27.62" r="2.00"/><circle cx="435.91" cy="27.49" r="2.00"/><circle cx="437.44" cy="27.38" r="2.00"/><circle cx="438.98" cy="27.29" r="2.00"/><circle cx="440.51" cy="27.21" r="2.00"/><circle cx="442.05" cy="27.15" r="2.00"/><circle cx="443.59" cy="27.10" r="2.00"/><circle cx="445.12" cy="27.06" r="2.00"/><circle cx="446.66" cy="27.02" r="2.00"/><circle cx="448.20" cy="26.98" r="2.00"/><circle cx="449.73" cy="26.94" r="2.00"/><circle cx="451.27" cy="26.90" r="2.00"/><circle cx="452.80" cy="26.86" r="2.00"/><circle cx="454.34" cy="26.83" r="2.00"/><circle cx="455.88" cy="26.80" r="2.00"/><circle cx="457.41" cy="26.77" r="2.00"/><circle cx="458.95" cy="26.74" r="2.00"/><circle cx="460.49" cy="26.72" r="2.00"/><circle cx="462.02" cy="26.69" r="2.00"/><circle cx="463.56" cy="26.67" r="2.00"/><circle cx="465.09" cy="26.65" r="2.00"/><circle cx="466.63" cy="26.64" r="2.00"/><circle cx="468.17" cy="26.63" r="2.00"/><circle cx="469.70" cy="26.61" r="2.00"/><circle cx="471.24" cy="26.61" r="2.00"/><circle cx="472.78" cy="26.60" r="2.00"/><circle cx="474.31" cy="26.60" r="2.00"/><circle cx="475.85" cy="26.60" r="2.00"/><circle cx="477.38" cy="26.60" r="2.00"/><circle cx="478.92" cy="26.60" r="2.00"/><circle cx="480.46" cy="26.60" r="2.00"/><circle cx="481.99" cy="26.60" r="2.00"/><circle cx="483.53" cy="26.60" r="2.00"/><circle cx="485.07" cy="26.60" r="2.00"/><circle cx="486.60" cy="26.60" r="2.00"/><circle cx="488.14" cy="26.60" r="2.00"/><circle cx="489.67" cy="26.60" r="2.00"/><circle cx="491.21" cy="26.60" r="2.00"/><circle cx="492.75" cy="26.60" r="2.00"/><circle cx="494.28" cy="26.60" r="2.00"/><circle cx="495.82" cy="26.60" r="2.00"/><circle cx="497.36" cy="26.60" r="2.00"/><circle cx="498.89" cy="26.60" r="2.00"/><circle cx="500.43" cy="26.60" r="2.00"/><circle cx="501.97" cy="26.60" r="2.00"/><circle cx="503.50" cy="26.60" r="2.00"/></g><path d="M340.60 201.70 L342.19 201.70 L343.78 201.70 L345.37 201.70 L346.96 201.70 L348.55 201.70 L350.14 201.70 L351.73 199.99 L353.32 196.42 L354.91 192.74 L356.50 188.37 L358.09 183.30 L359.67 177.49 L361.26 170.22 L362.85 162.37 L364.44 155.11 L366.03 148.66 L367.62 142.35 L369.21 135.51 L370.80 127.63 L372.39 119.14 L373.98 110.89 L375.57 102.79 L377.16 94.82 L378.75 87.32 L380.33 80.48 L381.92 74.23 L383.51 68.60 L385.10 63.41 L386.69 58.89 L388.28 54.92 L389.87 51.39 L391.46 48.49 L393.05 46.09 L394.64 43.95 L396.23 42.05 L397.82 40.36 L399.41 38.87 L400.99 37.52 L402.58 36.28 L404.17 35.16 L405.76 34.17 L407.35 33.32 L408.94 32.62 L410.53 31.95 L412.12 31.33 L413.71 30.76 L415.30 30.24 L416.89 29.78 L418.48 29.38 L420.07 29.05 L421.66 28.80 L423.24 28.57 L424.83 28.37 L426.42 28.18 L428.01 28.00 L429.60 27.84 L431.19 27.70 L432.78 27.58 L434.37 27.47 L435.96 27.38 L437.55 27.30 L439.14 27.23 L440.73 27.17 L442.32 27.10 L443.90 27.04 L445.49 26.98 L447.08 26.92 L448.67 26.87 L450.26 26.82 L451.85 26.78 L453.44 26.74 L455.03 26.70 L456.62 26.67 L458.21 26.64 L459.80 26.62 L461.39 26.61 L462.98 26.60 L464.56 26.60 L466.15 26.60 L467.74 26.60 L469.33 26.60 L470.92 26.60 L472.51 26.60 L474.10 26.60 L475.69 26.60 L477.28 26.60 L478.87 26.60 L480.46 26.60 L482.05 26.60 L483.64 26.60 L485.23 26.60 L486.81 26.60 L488.40 26.60 L489.99 26.60 L491.58 26.60 L493.17 26.60 L494.76 26.60 L496.35 26.60 L497.94 26.60" fill="none" stroke="#008000" stroke-width="0.5"/><g fill="#008000"><path d="M340.60 199.18L343.10 203.38L338.10 203.38Z"/><path d="M342.19 199.18L344.69 203.38L339.69 203.38Z"/><path d="M343.78 199.18L346.28 203.38L341.28 203.38Z"/><path d="M345.37 199.18L347.87 203.38L342.87 203.38Z"/><path d="M346.96 199.18L349.46 203.38L344.46 203.38Z"/><path d="M348.55 199.18L351.05 203.38L346.05 203.38Z"/><path d="M350.14 199.18L352.64 203.38L347.64 203.38Z"/><path d="M351.73 197.47L354.23 201.67L349.23 201.67Z"/><path d="M353.32 193.90L355.82 198.10L350.82 198.10Z"/><path d="M354.91 190.22L357.41 194.42L352.41 194.42Z"/><path d="M356.50 185.85L359.00 190.05L354.00 190.05Z"/><path d="M358.09 180.78L360.59 184.98L355.59 184.98Z"/><path d="M359.67 174.97L362.17 179.17L357.17 179.17Z"/><path d="M361.26 167.70L363.76 171.90L358.76 171.90Z"/><path d="M362.85 159.85L365.35 164.05L360.35 164.05Z"/><path d="M364.44 152.59L366.94 156.79L361.94 156.79Z"/><path d="M366.03 146.14L368.53 150.34L363.53 150.34Z"/><path d="M367.62 139.83L370.12 144.03L365.12 144.03Z"/><path d="M369.21 132.99L371.71 137.19L366.71 137.19Z"/><path d="M370.80 125.11L373.30 129.31L368.30 129.31Z"/><path d="M372.39 116.62L374.89 120.82L369.89 120.82Z"/><path d="M373.98 108.37L376.48 112.57L371.48 112.57Z"/><path d="M375.57 100.27L378.07 104.47L373.07 104.47Z"/><path d="M377.16 92.30L379.66 96.50L374.66 96.50Z"/><path d="M378.75 84.80L381.25 89.00L376.25 89.00Z"/><path d="M380.33 77.96L382.83 82.16L377.83 82.16Z"/><path d="M381.92 71.71L384.42 75.91L379.42 75.91Z"/><path d="M383.51 66.08L386.01 70.28L381.01 70.28Z"/><path d="M385.10 60.89L387.60 65.09L382.60 65.09Z"/><path d="M386.69 56.37L389.19 60.57L384.19 60.57Z"/><path d="M388.28 52.40L390.78 56.60L385.78 56.60Z"/><path d="M389.87 48.87L392.37 53.07L387.37 53.07Z"/><path d="M391.46 45.97L393.96 50.17L388.96 50.17Z"/><path d="M393.05 43.57L395.55 47.77L390.55 47.77Z"/><path d="M394.64 41.43L397.14 45.63L392.14 45.63Z"/><path d="M396.23 39.53L398.73 43.73L393.73 43.73Z"/><path d="M397.82 37.84L400.32 42.04L395.32 42.04Z"/><path d="M399.41 36.35L401.91 40.55L396.91 40.55Z"/><path d="M400.99 35.00L403.49 39.20L398.49 39.20Z"/><path d="M402.58 33.76L405.08 37.96L400.08 37.96Z"/><path d="M404.17 32.64L406.67 36.84L401.67 36.84Z"/><path d="M405.76 31.65L408.26 35.85L403.26 35.85Z"/><path d="M407.35 30.80L409.85 35.00L404.85 35.00Z"/><path d="M408.94 30.10L411.44 34.30L406.44 34.30Z"/><path d="M410.53 29.43L413.03 33.63L408.03 33.63Z"/><path d="M412.12 28.81L414.62 33.01L409.62 33.01Z"/><path d="M413.71 28.24L416.21 32.44L411.21 32.44Z"/><path d="M415.30 27.72L417.80 31.92L412.80 31.92Z"/><path d="M416.89 27.26L419.39 31.46L414.39 31.46Z"/><path d="M418.48 26.86L420.98 31.06L415.98 31.06Z"/><path d="M420.07 26.53L422.57 30.73L417.57 30.73Z"/><path d="M421.66 26.28L424.16 30.48L419.16 30.48Z"/><path d="M423.24 26.05L425.74 30.25L420.74 30.25Z"/><path d="M424.83 25.85L427.33 30.05L422.33 30.05Z"/><path d="M426.42 25.66L428.92 29.86L423.92 29.86Z"/><path d="M428.01 25.48L430.51 29.68L425.51 29.68Z"/><path d="M429.60 25.32L432.10 29.52L427.10 29.52Z"/><path d="M431.19 25.18L433.69 29.38L428.69 29.38Z"/><path d="M432.78 25.06L435.28 29.26L430.28 29.26Z"/><path d="M434.37 24.95L436.87 29.15L431.87 29.15Z"/><path d="M435.96 24.86L438.46 29.06L433.46 29.06Z"/><path d="M437.55 24.78L440.05 28.98L435.05 28.98Z"/><path d="M439.14 24.71L441.64 28.91L436.64 28.91Z"/><path d="M440.73 24.65L443.23 28.85L438.23 28.85Z"/><path d="M442.32 24.58L444.82 28.78L439.82 28.78Z"/><path d="M443.90 24.52L446.40 28.72L441.40 28.72Z"/><path d="M445.49 24.46L447.99 28.66L442.99 28.66Z"/><path d="M447.08 24.40L449.58 28.60L444.58 28.60Z"/><path d="M448.67 24.35L451.17 28.55L446.17 28.55Z"/><path d="M450.26 24.30L452.76 28.50L447.76 28.50Z"/><path d="M451.85 24.26L454.35 28.46L449.35 28.46Z"/><path d="M453.44 24.22L455.94 28.42L450.94 28.42Z"/><path d="M455.03 24.18L457.53 28.38L452.53 28.38Z"/><path d="M456.62 24.15L459.12 28.35L454.12 28.35Z"/><path d="M458.21 24.12L460.71 28.32L455.71 28.32Z"/><path d="M459.80 24.10L462.30 28.30L457.30 28.30Z"/><path d="M461.39 24.09L463.89 28.29L458.89 28.29Z"/><path d="M462.98 24.08L465.48 28.28L460.48 28.28Z"/><path d="M464.56 24.08L467.06 28.28L462.06 28.28Z"/><path d="M466.15 24.08L468.65 28.28L463.65 28.28Z"/><path d="M467.74 24.08L470.24 28.28L465.24 28.28Z"/><path d="M469.33 24.08L471.83 28.28L466.83 28.28Z"/><path d="M470.92 24.08L473.42 28.28L468.42 28.28Z"/><path d="M472.51 24.08L475.01 28.28L470.01 28.28Z"/><path d="M474.10 24.08L476.60 28.28L471.60 28.28Z"/><path d="M475.69 24.08L478.19 28.28L473.19 28.28Z"/><path d="M477.28 24.08L479.78 28.28L474.78 28.28Z"/><path d="M478.87 24.08L481.37 28.28L476.37 28.28Z"/><path d="M480.46 24.08L482.96 28.28L477.96 28.28Z"/><path d="M482.05 24.08L484.55 28.28L479.55 28.28Z"/><path d="M483.64 24.08L486.14 28.28L481.14 28.28Z"/><path d="M485.23 24.08L487.73 28.28L482.73 28.28Z"/><path d="M486.81 24.08L489.31 28.28L484.31 28.28Z"/><path d="M488.40 24.08L490.90 28.28L485.90 28.28Z"/><path d="M489.99 24.08L492.49 28.28L487.49 28.28Z"/><path d="M491.58 24.08L494.08 28.28L489.08 28.28Z"/><path d="M493.17 24.08L495.67 28.28L490.67 28.28Z"/><path d="M494.76 24.08L497.26 28.28L492.26 28.28Z"/><path d="M496.35 24.08L498.85 28.28L493.85 28.28Z"/><path d="M497.94 24.08L500.44 28.28L495.44 28.28Z"/></g></g><rect x="326.3" y="26.6" width="211.90" height="175.10" fill="none" stroke="#3c3c3c" stroke-width="1"/><path d="M326.30 201.7v3M326.30 26.6v3M339.54 201.7v1.5M339.54 26.6v1.2M352.79 201.7v3M352.79 26.6v3M366.03 201.7v1.5M366.03 26.6v1.2M379.28 201.7v3M379.28 26.6v3M392.52 201.7v1.5M392.52 26.6v1.2M405.76 201.7v3M405.76 26.6v3M419.01 201.7v1.5M419.01 26.6v1.2M432.25 201.7v3M432.25 26.6v3M445.49 201.7v1.5M445.49 26.6v1.2M458.74 201.7v3M458.74 26.6v3M471.98 201.7v1.5M471.98 26.6v1.2M485.23 201.7v3M485.23 26.6v3M498.47 201.7v1.5M498.47 26.6v1.2M511.71 201.7v3M511.71 26.6v3M524.96 201.7v1.5M524.96 26.6v1.2M538.20 201.7v3M538.20 26.6v3M326.3 201.70h-3M538.2 201.70h-3M326.3 184.19h-1.5M538.2 184.19h-1.2M326.3 166.68h-3M538.2 166.68h-3M326.3 149.17h-1.5M538.2 149.17h-1.2M326.3 131.66h-3M538.2 131.66h-3M326.3 114.15h-1.5M538.2 114.15h-1.2M326.3 96.64h-3M538.2 96.64h-3M326.3 79.13h-1.5M538.2 79.13h-1.2M326.3 61.62h-3M538.2 61.62h-3M326.3 44.11h-1.5M538.2 44.11h-1.2M326.3 26.60h-3M538.2 26.60h-3" stroke="#3c3c3c" stroke-width="1" fill="none"/><g font-family='"Liberation Sans", Arial, Helvetica, sans-serif' font-size="14.2" fill="#000"><text x="326.30" y="218.70" text-anchor="middle">0.0</text><text x="352.79" y="218.70" text-anchor="middle">0.5</text><text x="379.28" y="218.70" text-anchor="middle">1.0</text><text x="405.76" y="218.70" text-anchor="middle">1.5</text><text x="432.25" y="218.70" text-anchor="middle">2.0</text><text x="458.74" y="218.70" text-anchor="middle">2.5</text><text x="485.23" y="218.70" text-anchor="middle">3.0</text><text x="511.71" y="218.70" text-anchor="middle">3.5</text><text x="538.20" y="218.70" text-anchor="middle">4.0</text><text x="320.70" y="206.30" text-anchor="end">0.0</text><text x="320.70" y="171.28" text-anchor="end">0.2</text><text x="320.70" y="136.26" text-anchor="end">0.4</text><text x="320.70" y="101.24" text-anchor="end">0.6</text><text x="320.70" y="66.22" text-anchor="end">0.8</text><text x="320.70" y="31.20" text-anchor="end">1.0</text></g><text x="432.25" y="240.10" text-anchor="middle" font-family='"Liberation Sans", Arial, Helvetica, sans-serif' font-size="16.9">Particle residence time t / s</text><text transform="translate(294.90 114.15) rotate(-90)" x="0" y="0" text-anchor="middle" font-family='"Liberation Sans", Arial, Helvetica, sans-serif' font-size="16.9">Cumulative distribution F(t) / -</text><text x="329.30" y="42.90" font-family='"Liberation Sans", Arial, Helvetica, sans-serif' font-size="15.8">b</text><rect x="393.3" y="107.3" width="98.50" height="74.50" fill="#fff" stroke="#8a8a8a" stroke-width="1"/><text x="395.90" y="121.70" font-family='"Liberation Sans", Arial, Helvetica, sans-serif' font-size="14.3">ṁ<tspan font-size="9.6" dx="0" dy="3.6">particles</tspan></text><path d="M395.70 138.10H426.30" stroke="#707070" stroke-width="1"/><g fill="#000000"><rect x="409.45" y="136.55" width="3.1" height="3.1"/></g><text x="430.90" y="142.90" font-family='"Liberation Sans", Arial, Helvetica, sans-serif' font-size="14.3">0.24 kg/h</text><path d="M395.70 155.30H426.30" stroke="#ff8080" stroke-width="1"/><g fill="#ff0000"><circle cx="411.00" cy="155.30" r="1.50"/></g><text x="430.90" y="160.10" font-family='"Liberation Sans", Arial, Helvetica, sans-serif' font-size="14.3">0.46 kg/h</text><path d="M395.70 172.50H426.30" stroke="#80c080" stroke-width="1"/><g fill="#008000"><path d="M411.00 170.23L413.25 174.01L408.75 174.01Z"/></g><text x="430.90" y="177.30" font-family='"Liberation Sans", Arial, Helvetica, sans-serif' font-size="14.3">0.69 kg/h</text><clipPath id="cpc"><rect x="47.4" y="271.4" width="211.80" height="175.00"/></clipPath><g clip-path="url(#cpc)"><path d="M65.93 446.40 L68.37 446.40 L70.80 446.40 L73.24 446.40 L75.68 446.00 L78.11 444.88 L80.55 443.48 L82.98 441.68 L85.42 439.50 L87.85 436.80 L90.29 433.28 L92.73 429.18 L95.16 424.71 L97.60 419.46 L100.03 413.68 L102.47 407.75 L104.90 401.50 L107.34 394.99 L109.78 388.37 L112.21 381.80 L114.65 375.15 L117.08 368.68 L119.52 363.19 L121.95 358.14 L124.39 352.52 L126.82 346.36 L129.26 340.81 L131.70 335.92 L134.13 331.41 L136.57 327.25 L139.00 323.34 L141.44 319.49 L143.87 315.73 L146.31 312.17 L148.75 308.87 L151.18 305.67 L153.62 302.73 L156.05 300.17 L158.49 297.99 L160.92 296.04 L163.36 294.27 L165.80 292.61 L168.23 291.04 L170.67 289.56 L173.10 288.18 L175.54 286.88 L177.97 285.67 L180.41 284.55 L182.85 283.49 L185.28 282.46 L187.72 281.45 L190.15 280.47 L192.59 279.52 L195.02 278.62 L197.46 277.76 L199.90 276.91 L202.33 276.09 L204.77 275.38 L207.20 274.81 L209.64 274.34 L212.07 273.91 L214.51 273.55 L216.95 273.25 L219.38 273.00 L221.82 272.77 L224.25 272.56 L226.69 272.36 L229.12 272.18 L231.56 272.03 L234.00 271.90 L236.43 271.80 L238.87 271.73 L241.30 271.66 L243.74 271.61 L246.17 271.55 L248.61 271.50 L251.05 271.46 L253.48 271.43 L255.92 271.41 L258.35 271.40" fill="none" stroke="#000000" stroke-width="0.5"/><g fill="#000000"><rect x="64.38" y="444.85" width="3.1" height="3.1"/><rect x="66.82" y="444.85" width="3.1" height="3.1"/><rect x="69.25" y="444.85" width="3.1" height="3.1"/><rect x="71.69" y="444.85" width="3.1" height="3.1"/><rect x="74.13" y="444.45" width="3.1" height="3.1"/><rect x="76.56" y="443.33" width="3.1" height="3.1"/><rect x="79.00" y="441.93" width="3.1" height="3.1"/><rect x="81.43" y="440.13" width="3.1" height="3.1"/><rect x="83.87" y="437.95" width="3.1" height="3.1"/><rect x="86.30" y="435.25" width="3.1" height="3.1"/><rect x="88.74" y="431.73" width="3.1" height="3.1"/><rect x="91.18" y="427.63" width="3.1" height="3.1"/><rect x="93.61" y="423.16" width="3.1" height="3.1"/><rect x="96.05" y="417.91" width="3.1" height="3.1"/><rect x="98.48" y="412.13" width="3.1" height="3.1"/><rect x="100.92" y="406.20" width="3.1" height="3.1"/><rect x="103.35" y="399.95" width="3.1" height="3.1"/><rect x="105.79" y="393.44" width="3.1" height="3.1"/><rect x="108.23" y="386.82" width="3.1" height="3.1"/><rect x="110.66" y="380.25" width="3.1" height="3.1"/><rect x="113.10" y="373.60" width="3.1" height="3.1"/><rect x="115.53" y="367.13" width="3.1" height="3.1"/><rect x="117.97" y="361.64" width="3.1" height="3.1"/><rect x="120.40" y="356.59" width="3.1" height="3.1"/><rect x="122.84" y="350.97" width="3.1" height="3.1"/><rect x="125.27" y="344.81" width="3.1" height="3.1"/><rect x="127.71" y="339.26" width="3.1" height="3.1"/><rect x="130.15" y="334.37" width="3.1" height="3.1"/><rect x="132.58" y="329.86" width="3.1" height="3.1"/><rect x="135.02" y="325.70" width="3.1" height="3.1"/><rect x="137.45" y="321.79" width="3.1" height="3.1"/><rect x="139.89" y="317.94" width="3.1" height="3.1"/><rect x="142.32" y="314.18" width="3.1" height="3.1"/><rect x="144.76" y="310.62" width="3.1" height="3.1"/><rect x="147.20" y="307.32" width="3.1" height="3.1"/><rect x="149.63" y="304.12" width="3.1" height="3.1"/><rect x="152.07" y="301.18" width="3.1" height="3.1"/><rect x="154.50" y="298.62" width="3.1" height="3.1"/><rect x="156.94" y="296.44" width="3.1" height="3.1"/><rect x="159.37" y="294.49" width="3.1" height="3.1"/><rect x="161.81" y="292.72" width="3.1" height="3.1"/><rect x="164.25" y="291.06" width="3.1" height="3.1"/><rect x="166.68" y="289.49" width="3.1" height="3.1"/><rect x="169.12" y="288.01" width="3.1" height="3.1"/><rect x="171.55" y="286.63" width="3.1" height="3.1"/><rect x="173.99" y="285.33" width="3.1" height="3.1"/><rect x="176.42" y="284.12" width="3.1" height="3.1"/><rect x="178.86" y="283.00" width="3.1" height="3.1"/><rect x="181.30" y="281.94" width="3.1" height="3.1"/><rect x="183.73" y="280.91" width="3.1" height="3.1"/><rect x="186.17" y="279.90" width="3.1" height="3.1"/><rect x="188.60" y="278.92" width="3.1" height="3.1"/><rect x="191.04" y="277.97" width="3.1" height="3.1"/><rect x="193.47" y="277.07" width="3.1" height="3.1"/><rect x="195.91" y="276.21" width="3.1" height="3.1"/><rect x="198.35" y="275.36" width="3.1" height="3.1"/><rect x="200.78" y="274.54" width="3.1" height="3.1"/><rect x="203.22" y="273.83" width="3.1" height="3.1"/><rect x="205.65" y="273.26" width="3.1" height="3.1"/><rect x="208.09" y="272.79" width="3.1" height="3.1"/><rect x="210.52" y="272.36" width="3.1" height="3.1"/><rect x="212.96" y="272.00" width="3.1" height="3.1"/><rect x="215.40" y="271.70" width="3.1" height="3.1"/><rect x="217.83" y="271.45" width="3.1" height="3.1"/><rect x="220.27" y="271.22" width="3.1" height="3.1"/><rect x="222.70" y="271.01" width="3.1" height="3.1"/><rect x="225.14" y="270.81" width="3.1" height="3.1"/><rect x="227.57" y="270.63" width="3.1" height="3.1"/><rect x="230.01" y="270.48" width="3.1" height="3.1"/><rect x="232.45" y="270.35" width="3.1" height="3.1"/><rect x="234.88" y="270.25" width="3.1" height="3.1"/><rect x="237.32" y="270.18" width="3.1" height="3.1"/><rect x="239.75" y="270.11" width="3.1" height="3.1"/><rect x="242.19" y="270.06" width="3.1" height="3.1"/><rect x="244.62" y="270.00" width="3.1" height="3.1"/><rect x="247.06" y="269.95" width="3.1" height="3.1"/><rect x="249.50" y="269.91" width="3.1" height="3.1"/><rect x="251.93" y="269.88" width="3.1" height="3.1"/><rect x="254.37" y="269.86" width="3.1" height="3.1"/><rect x="256.80" y="269.85" width="3.1" height="3.1"/></g><path d="M63.28 446.40 L64.77 446.40 L66.25 446.40 L67.73 446.40 L69.22 446.40 L70.70 446.40 L72.18 446.40 L73.66 446.40 L75.15 446.13 L76.63 445.23 L78.11 443.93 L79.59 442.24 L81.08 439.16 L82.56 435.11 L84.04 430.82 L85.52 426.40 L87.01 421.51 L88.49 416.30 L89.97 410.93 L91.45 405.43 L92.94 399.69 L94.42 393.70 L95.90 387.45 L97.38 380.81 L98.87 373.66 L100.35 366.38 L101.83 359.38 L103.32 352.76 L104.80 346.30 L106.28 339.98 L107.76 333.82 L109.25 327.82 L110.73 321.80 L112.21 315.75 L113.69 310.07 L115.18 305.16 L116.66 301.20 L118.14 297.75 L119.62 294.73 L121.11 292.05 L122.59 289.58 L124.07 287.26 L125.55 285.15 L127.04 283.31 L128.52 281.80 L130.00 280.51 L131.48 279.37 L132.97 278.40 L134.45 277.65 L135.93 277.09 L137.42 276.59 L138.90 276.12 L140.38 275.71 L141.86 275.33 L143.35 275.00 L144.83 274.70 L146.31 274.43 L147.79 274.20 L149.28 274.00 L150.76 273.81 L152.24 273.63 L153.72 273.46 L155.21 273.29 L156.69 273.14 L158.17 272.99 L159.65 272.85 L161.14 272.72 L162.62 272.60 L164.10 272.48 L165.58 272.38 L167.07 272.28 L168.55 272.19 L170.03 272.11 L171.51 272.04 L173.00 271.98 L174.48 271.92 L175.96 271.88 L177.45 271.83 L178.93 271.79 L180.41 271.74 L181.89 271.70 L183.38 271.66 L184.86 271.62 L186.34 271.59 L187.82 271.55 L189.31 271.52 L190.79 271.50 L192.27 271.47 L193.75 271.45 L195.24 271.43 L196.72 271.42 L198.20 271.41 L199.68 271.40 L201.17 271.40 L202.65 271.40 L204.13 271.40 L205.61 271.40 L207.10 271.40 L208.58 271.40 L210.06 271.40 L211.55 271.40 L213.03 271.40" fill="none" stroke="#ff0000" stroke-width="0.5"/><g fill="#ff0000"><circle cx="63.28" cy="446.40" r="2.00"/><circle cx="64.77" cy="446.40" r="2.00"/><circle cx="66.25" cy="446.40" r="2.00"/><circle cx="67.73" cy="446.40" r="2.00"/><circle cx="69.22" cy="446.40" r="2.00"/><circle cx="70.70" cy="446.40" r="2.00"/><circle cx="72.18" cy="446.40" r="2.00"/><circle cx="73.66" cy="446.40" r="2.00"/><circle cx="75.15" cy="446.13" r="2.00"/><circle cx="76.63" cy="445.23" r="2.00"/><circle cx="78.11" cy="443.93" r="2.00"/><circle cx="79.59" cy="442.24" r="2.00"/><circle cx="81.08" cy="439.16" r="2.00"/><circle cx="82.56" cy="435.11" r="2.00"/><circle cx="84.04" cy="430.82" r="2.00"/><circle cx="85.52" cy="426.40" r="2.00"/><circle cx="87.01" cy="421.51" r="2.00"/><circle cx="88.49" cy="416.30" r="2.00"/><circle cx="89.97" cy="410.93" r="2.00"/><circle cx="91.45" cy="405.43" r="2.00"/><circle cx="92.94" cy="399.69" r="2.00"/><circle cx="94.42" cy="393.70" r="2.00"/><circle cx="95.90" cy="387.45" r="2.00"/><circle cx="97.38" cy="380.81" r="2.00"/><circle cx="98.87" cy="373.66" r="2.00"/><circle cx="100.35" cy="366.38" r="2.00"/><circle cx="101.83" cy="359.38" r="2.00"/><circle cx="103.32" cy="352.76" r="2.00"/><circle cx="104.80" cy="346.30" r="2.00"/><circle cx="106.28" cy="339.98" r="2.00"/><circle cx="107.76" cy="333.82" r="2.00"/><circle cx="109.25" cy="327.82" r="2.00"/><circle cx="110.73" cy="321.80" r="2.00"/><circle cx="112.21" cy="315.75" r="2.00"/><circle cx="113.69" cy="310.07" r="2.00"/><circle cx="115.18" cy="305.16" r="2.00"/><circle cx="116.66" cy="301.20" r="2.00"/><circle cx="118.14" cy="297.75" r="2.00"/><circle cx="119.62" cy="294.73" r="2.00"/><circle cx="121.11" cy="292.05" r="2.00"/><circle cx="122.59" cy="289.58" r="2.00"/><circle cx="124.07" cy="287.26" r="2.00"/><circle cx="125.55" cy="285.15" r="2.00"/><circle cx="127.04" cy="283.31" r="2.00"/><circle cx="128.52" cy="281.80" r="2.00"/><circle cx="130.00" cy="280.51" r="2.00"/><circle cx="131.48" cy="279.37" r="2.00"/><circle cx="132.97" cy="278.40" r="2.00"/><circle cx="134.45" cy="277.65" r="2.00"/><circle cx="135.93" cy="277.09" r="2.00"/><circle cx="137.42" cy="276.59" r="2.00"/><circle cx="138.90" cy="276.12" r="2.00"/><circle cx="140.38" cy="275.71" r="2.00"/><circle cx="141.86" cy="275.33" r="2.00"/><circle cx="143.35" cy="275.00" r="2.00"/><circle cx="144.83" cy="274.70" r="2.00"/><circle cx="146.31" cy="274.43" r="2.00"/><circle cx="147.79" cy="274.20" r="2.00"/><circle cx="149.28" cy="274.00" r="2.00"/><circle cx="150.76" cy="273.81" r="2.00"/><circle cx="152.24" cy="273.63" r="2.00"/><circle cx="153.72" cy="273.46" r="2.00"/><circle cx="155.21" cy="273.29" r="2.00"/><circle cx="156.69" cy="273.14" r="2.00"/><circle cx="158.17" cy="272.99" r="2.00"/><circle cx="159.65" cy="272.85" r="2.00"/><circle cx="161.14" cy="272.72" r="2.00"/><circle cx="162.62" cy="272.60" r="2.00"/><circle cx="164.10" cy="272.48" r="2.00"/><circle cx="165.58" cy="272.38" r="2.00"/><circle cx="167.07" cy="272.28" r="2.00"/><circle cx="168.55" cy="272.19" r="2.00"/><circle cx="170.03" cy="272.11" r="2.00"/><circle cx="171.51" cy="272.04" r="2.00"/><circle cx="173.00" cy="271.98" r="2.00"/><circle cx="174.48" cy="271.92" r="2.00"/><circle cx="175.96" cy="271.88" r="2.00"/><circle cx="177.45" cy="271.83" r="2.00"/><circle cx="178.93" cy="271.79" r="2.00"/><circle cx="180.41" cy="271.74" r="2.00"/><circle cx="181.89" cy="271.70" r="2.00"/><circle cx="183.38" cy="271.66" r="2.00"/><circle cx="184.86" cy="271.62" r="2.00"/><circle cx="186.34" cy="271.59" r="2.00"/><circle cx="187.82" cy="271.55" r="2.00"/><circle cx="189.31" cy="271.52" r="2.00"/><circle cx="190.79" cy="271.50" r="2.00"/><circle cx="192.27" cy="271.47" r="2.00"/><circle cx="193.75" cy="271.45" r="2.00"/><circle cx="195.24" cy="271.43" r="2.00"/><circle cx="196.72" cy="271.42" r="2.00"/><circle cx="198.20" cy="271.41" r="2.00"/><circle cx="199.68" cy="271.40" r="2.00"/><circle cx="201.17" cy="271.40" r="2.00"/><circle cx="202.65" cy="271.40" r="2.00"/><circle cx="204.13" cy="271.40" r="2.00"/><circle cx="205.61" cy="271.40" r="2.00"/><circle cx="207.10" cy="271.40" r="2.00"/><circle cx="208.58" cy="271.40" r="2.00"/><circle cx="210.06" cy="271.40" r="2.00"/><circle cx="211.55" cy="271.40" r="2.00"/><circle cx="213.03" cy="271.40" r="2.00"/></g><path d="M62.76 446.40 L64.03 446.40 L65.30 446.40 L66.57 446.40 L67.84 446.40 L69.11 446.40 L70.38 446.40 L71.65 446.36 L72.92 445.84 L74.19 444.85 L75.46 443.55 L76.73 441.74 L78.01 438.57 L79.28 434.51 L80.55 430.15 L81.82 425.81 L83.09 421.04 L84.36 415.85 L85.63 410.33 L86.90 404.35 L88.17 397.59 L89.44 390.59 L90.71 383.89 L91.98 377.91 L93.25 372.35 L94.53 366.99 L95.80 361.66 L97.07 356.17 L98.34 350.50 L99.61 344.75 L100.88 339.01 L102.15 333.41 L103.42 328.03 L104.69 323.02 L105.96 318.67 L107.23 314.64 L108.50 310.39 L109.78 305.38 L111.05 298.01 L112.32 293.12 L113.59 289.62 L114.86 286.81 L116.13 284.61 L117.40 282.90 L118.67 281.46 L119.94 280.13 L121.21 278.90 L122.48 277.79 L123.75 276.81 L125.02 275.97 L126.30 275.28 L127.57 274.75 L128.84 274.40 L130.11 274.15 L131.38 273.93 L132.65 273.72 L133.92 273.52 L135.19 273.34 L136.46 273.17 L137.73 273.02 L139.00 272.87 L140.27 272.74 L141.55 272.62 L142.82 272.51 L144.09 272.41 L145.36 272.32 L146.63 272.23 L147.90 272.16 L149.17 272.09 L150.44 272.04 L151.71 271.98 L152.98 271.94 L154.25 271.89 L155.52 271.85 L156.79 271.81 L158.07 271.77 L159.34 271.74 L160.61 271.70 L161.88 271.66 L163.15 271.63 L164.42 271.60 L165.69 271.57 L166.96 271.54 L168.23 271.52 L169.50 271.49 L170.77 271.47 L172.04 271.45 L173.32 271.44 L174.59 271.43 L175.86 271.41 L177.13 271.41 L178.40 271.40 L179.67 271.40 L180.94 271.40 L182.21 271.40 L183.48 271.40 L184.75 271.40 L186.02 271.40 L187.29 271.40 L188.56 271.40 L189.84 271.40 L191.11 271.40" fill="none" stroke="#008000" stroke-width="0.5"/><g fill="#008000"><path d="M62.76 443.88L65.26 448.08L60.26 448.08Z"/><path d="M64.03 443.88L66.53 448.08L61.53 448.08Z"/><path d="M65.30 443.88L67.80 448.08L62.80 448.08Z"/><path d="M66.57 443.88L69.07 448.08L64.07 448.08Z"/><path d="M67.84 443.88L70.34 448.08L65.34 448.08Z"/><path d="M69.11 443.88L71.61 448.08L66.61 448.08Z"/><path d="M70.38 443.88L72.88 448.08L67.88 448.08Z"/><path d="M71.65 443.84L74.15 448.04L69.15 448.04Z"/><path d="M72.92 443.32L75.42 447.52L70.42 447.52Z"/><path d="M74.19 442.33L76.69 446.53L71.69 446.53Z"/><path d="M75.46 441.03L77.96 445.23L72.96 445.23Z"/><path d="M76.73 439.22L79.23 443.42L74.23 443.42Z"/><path d="M78.01 436.05L80.51 440.25L75.51 440.25Z"/><path d="M79.28 431.99L81.78 436.19L76.78 436.19Z"/><path d="M80.55 427.63L83.05 431.83L78.05 431.83Z"/><path d="M81.82 423.29L84.32 427.49L79.32 427.49Z"/><path d="M83.09 418.52L85.59 422.72L80.59 422.72Z"/><path d="M84.36 413.33L86.86 417.53L81.86 417.53Z"/><path d="M85.63 407.81L88.13 412.01L83.13 412.01Z"/><path d="M86.90 401.83L89.40 406.03L84.40 406.03Z"/><path d="M88.17 395.07L90.67 399.27L85.67 399.27Z"/><path d="M89.44 388.07L91.94 392.27L86.94 392.27Z"/><path d="M90.71 381.37L93.21 385.57L88.21 385.57Z"/><path d="M91.98 375.39L94.48 379.59L89.48 379.59Z"/><path d="M93.25 369.83L95.75 374.03L90.75 374.03Z"/><path d="M94.53 364.47L97.03 368.67L92.03 368.67Z"/><path d="M95.80 359.14L98.30 363.34L93.30 363.34Z"/><path d="M97.07 353.65L99.57 357.85L94.57 357.85Z"/><path d="M98.34 347.98L100.84 352.18L95.84 352.18Z"/><path d="M99.61 342.23L102.11 346.43L97.11 346.43Z"/><path d="M100.88 336.49L103.38 340.69L98.38 340.69Z"/><path d="M102.15 330.89L104.65 335.09L99.65 335.09Z"/><path d="M103.42 325.51L105.92 329.71L100.92 329.71Z"/><path d="M104.69 320.50L107.19 324.70L102.19 324.70Z"/><path d="M105.96 316.15L108.46 320.35L103.46 320.35Z"/><path d="M107.23 312.12L109.73 316.32L104.73 316.32Z"/><path d="M108.50 307.87L111.00 312.07L106.00 312.07Z"/><path d="M109.78 302.86L112.28 307.06L107.28 307.06Z"/><path d="M111.05 295.49L113.55 299.69L108.55 299.69Z"/><path d="M112.32 290.60L114.82 294.80L109.82 294.80Z"/><path d="M113.59 287.10L116.09 291.30L111.09 291.30Z"/><path d="M114.86 284.29L117.36 288.49L112.36 288.49Z"/><path d="M116.13 282.09L118.63 286.29L113.63 286.29Z"/><path d="M117.40 280.38L119.90 284.58L114.90 284.58Z"/><path d="M118.67 278.94L121.17 283.14L116.17 283.14Z"/><path d="M119.94 277.61L122.44 281.81L117.44 281.81Z"/><path d="M121.21 276.38L123.71 280.58L118.71 280.58Z"/><path d="M122.48 275.27L124.98 279.47L119.98 279.47Z"/><path d="M123.75 274.29L126.25 278.49L121.25 278.49Z"/><path d="M125.02 273.45L127.52 277.65L122.52 277.65Z"/><path d="M126.30 272.76L128.80 276.96L123.80 276.96Z"/><path d="M127.57 272.23L130.07 276.43L125.07 276.43Z"/><path d="M128.84 271.88L131.34 276.08L126.34 276.08Z"/><path d="M130.11 271.63L132.61 275.83L127.61 275.83Z"/><path d="M131.38 271.41L133.88 275.61L128.88 275.61Z"/><path d="M132.65 271.20L135.15 275.40L130.15 275.40Z"/><path d="M133.92 271.00L136.42 275.20L131.42 275.20Z"/><path d="M135.19 270.82L137.69 275.02L132.69 275.02Z"/><path d="M136.46 270.65L138.96 274.85L133.96 274.85Z"/><path d="M137.73 270.50L140.23 274.70L135.23 274.70Z"/><path d="M139.00 270.35L141.50 274.55L136.50 274.55Z"/><path d="M140.27 270.22L142.77 274.42L137.77 274.42Z"/><path d="M141.55 270.10L144.05 274.30L139.05 274.30Z"/><path d="M142.82 269.99L145.32 274.19L140.32 274.19Z"/><path d="M144.09 269.89L146.59 274.09L141.59 274.09Z"/><path d="M145.36 269.80L147.86 274.00L142.86 274.00Z"/><path d="M146.63 269.71L149.13 273.91L144.13 273.91Z"/><path d="M147.90 269.64L150.40 273.84L145.40 273.84Z"/><path d="M149.17 269.57L151.67 273.77L146.67 273.77Z"/><path d="M150.44 269.52L152.94 273.72L147.94 273.72Z"/><path d="M151.71 269.46L154.21 273.66L149.21 273.66Z"/><path d="M152.98 269.42L155.48 273.62L150.48 273.62Z"/><path d="M154.25 269.37L156.75 273.57L151.75 273.57Z"/><path d="M155.52 269.33L158.02 273.53L153.02 273.53Z"/><path d="M156.79 269.29L159.29 273.49L154.29 273.49Z"/><path d="M158.07 269.25L160.57 273.45L155.57 273.45Z"/><path d="M159.34 269.22L161.84 273.42L156.84 273.42Z"/><path d="M160.61 269.18L163.11 273.38L158.11 273.38Z"/><path d="M161.88 269.14L164.38 273.34L159.38 273.34Z"/><path d="M163.15 269.11L165.65 273.31L160.65 273.31Z"/><path d="M164.42 269.08L166.92 273.28L161.92 273.28Z"/><path d="M165.69 269.05L168.19 273.25L163.19 273.25Z"/><path d="M166.96 269.02L169.46 273.22L164.46 273.22Z"/><path d="M168.23 269.00L170.73 273.20L165.73 273.20Z"/><path d="M169.50 268.97L172.00 273.17L167.00 273.17Z"/><path d="M170.77 268.95L173.27 273.15L168.27 273.15Z"/><path d="M172.04 268.93L174.54 273.13L169.54 273.13Z"/><path d="M173.32 268.92L175.82 273.12L170.82 273.12Z"/><path d="M174.59 268.91L177.09 273.11L172.09 273.11Z"/><path d="M175.86 268.89L178.36 273.09L173.36 273.09Z"/><path d="M177.13 268.89L179.63 273.09L174.63 273.09Z"/><path d="M178.40 268.88L180.90 273.08L175.90 273.08Z"/><path d="M179.67 268.88L182.17 273.08L177.17 273.08Z"/><path d="M180.94 268.88L183.44 273.08L178.44 273.08Z"/><path d="M182.21 268.88L184.71 273.08L179.71 273.08Z"/><path d="M183.48 268.88L185.98 273.08L180.98 273.08Z"/><path d="M184.75 268.88L187.25 273.08L182.25 273.08Z"/><path d="M186.02 268.88L188.52 273.08L183.52 273.08Z"/><path d="M187.29 268.88L189.79 273.08L184.79 273.08Z"/><path d="M188.56 268.88L191.06 273.08L186.06 273.08Z"/><path d="M189.84 268.88L192.34 273.08L187.34 273.08Z"/><path d="M191.11 268.88L193.61 273.08L188.61 273.08Z"/></g></g><rect x="47.4" y="271.4" width="211.80" height="175.00" fill="none" stroke="#3c3c3c" stroke-width="1"/><path d="M47.40 446.4v3M47.40 271.4v3M60.64 446.4v1.5M60.64 271.4v1.2M73.88 446.4v3M73.88 271.4v3M87.11 446.4v1.5M87.11 271.4v1.2M100.35 446.4v3M100.35 271.4v3M113.59 446.4v1.5M113.59 271.4v1.2M126.82 446.4v3M126.82 271.4v3M140.06 446.4v1.5M140.06 271.4v1.2M153.30 446.4v3M153.30 271.4v3M166.54 446.4v1.5M166.54 271.4v1.2M179.78 446.4v3M179.78 271.4v3M193.01 446.4v1.5M193.01 271.4v1.2M206.25 446.4v3M206.25 271.4v3M219.49 446.4v1.5M219.49 271.4v1.2M232.72 446.4v3M232.72 271.4v3M245.96 446.4v1.5M245.96 271.4v1.2M259.20 446.4v3M259.20 271.4v3M47.4 446.40h-3M259.2 446.40h-3M47.4 428.90h-1.5M259.2 428.90h-1.2M47.4 411.40h-3M259.2 411.40h-3M47.4 393.90h-1.5M259.2 393.90h-1.2M47.4 376.40h-3M259.2 376.40h-3M47.4 358.90h-1.5M259.2 358.90h-1.2M47.4 341.40h-3M259.2 341.40h-3M47.4 323.90h-1.5M259.2 323.90h-1.2M47.4 306.40h-3M259.2 306.40h-3M47.4 288.90h-1.5M259.2 288.90h-1.2M47.4 271.40h-3M259.2 271.40h-3" stroke="#3c3c3c" stroke-width="1" fill="none"/><g font-family='"Liberation Sans", Arial, Helvetica, sans-serif' font-size="14.2" fill="#000"><text x="47.40" y="463.40" text-anchor="middle">0.0</text><text x="73.88" y="463.40" text-anchor="middle">0.5</text><text x="100.35" y="463.40" text-anchor="middle">1.0</text><text x="126.82" y="463.40" text-anchor="middle">1.5</text><text x="153.30" y="463.40" text-anchor="middle">2.0</text><text x="179.78" y="463.40" text-anchor="middle">2.5</text><text x="206.25" y="463.40" text-anchor="middle">3.0</text><text x="232.72" y="463.40" text-anchor="middle">3.5</text><text x="259.20" y="463.40" text-anchor="middle">4.0</text><text x="41.80" y="451.00" text-anchor="end">0.0</text><text x="41.80" y="416.00" text-anchor="end">0.2</text><text x="41.80" y="381.00" text-anchor="end">0.4</text><text x="41.80" y="346.00" text-anchor="end">0.6</text><text x="41.80" y="311.00" text-anchor="end">0.8</text><text x="41.80" y="276.00" text-anchor="end">1.0</text></g><text x="153.30" y="484.80" text-anchor="middle" font-family='"Liberation Sans", Arial, Helvetica, sans-serif' font-size="16.9">Particle residence time t / s</text><text transform="translate(16.00 358.90) rotate(-90)" x="0" y="0" text-anchor="middle" font-family='"Liberation Sans", Arial, Helvetica, sans-serif' font-size="16.9">Cumulative distribution F(t) / -</text><text x="50.40" y="287.70" font-family='"Liberation Sans", Arial, Helvetica, sans-serif' font-size="15.8">c</text><rect x="148.9" y="344.4" width="105.40" height="75.40" fill="#fff" stroke="#8a8a8a" stroke-width="1"/><text x="151.50" y="358.80" font-family='"Liberation Sans", Arial, Helvetica, sans-serif' font-size="14.3">ṁ<tspan font-size="9.6" dx="0" dy="3.6">sheath</tspan></text><path d="M151.30 375.20H181.90" stroke="#707070" stroke-width="1"/><g fill="#000000"><rect x="165.05" y="373.65" width="3.1" height="3.1"/></g><text x="186.50" y="380.00" font-family='"Liberation Sans", Arial, Helvetica, sans-serif' font-size="14.3">5 kg/h</text><path d="M151.30 392.40H181.90" stroke="#ff8080" stroke-width="1"/><g fill="#ff0000"><circle cx="166.60" cy="392.40" r="1.50"/></g><text x="186.50" y="397.20" font-family='"Liberation Sans", Arial, Helvetica, sans-serif' font-size="14.3">8.9 kg/h</text><path d="M151.30 409.60H181.90" stroke="#80c080" stroke-width="1"/><g fill="#008000"><path d="M166.60 407.33L168.85 411.11L164.35 411.11Z"/></g><text x="186.50" y="414.40" font-family='"Liberation Sans", Arial, Helvetica, sans-serif' font-size="14.3">10.68 kg/h</text><clipPath id="cpd"><rect x="326.3" y="271.4" width="211.90" height="175.00"/></clipPath><g clip-path="url(#cpd)"><path d="M347.49 446.40 L348.97 446.35 L350.46 446.22 L351.94 446.01 L353.42 445.23 L354.91 443.95 L356.39 442.02 L357.87 439.29 L359.36 436.11 L360.84 432.09 L362.32 427.45 L363.81 422.53 L365.29 417.12 L366.77 411.69 L368.26 406.49 L369.74 401.16 L371.22 395.27 L372.71 388.91 L374.19 382.95 L375.67 377.35 L377.16 371.67 L378.64 365.62 L380.12 359.46 L381.61 353.52 L383.09 347.81 L384.57 342.12 L386.06 336.26 L387.54 330.13 L389.02 324.14 L390.51 318.63 L391.99 313.44 L393.47 308.49 L394.96 303.64 L396.44 299.01 L397.92 295.09 L399.41 291.77 L400.89 288.94 L402.37 286.68 L403.86 284.71 L405.34 282.98 L406.82 281.53 L408.31 280.37 L409.79 279.37 L411.27 278.48 L412.76 277.70 L414.24 277.04 L415.72 276.51 L417.21 276.06 L418.69 275.64 L420.17 275.25 L421.66 274.88 L423.14 274.54 L424.62 274.24 L426.10 273.96 L427.59 273.71 L429.07 273.50 L430.55 273.32 L432.04 273.17 L433.52 273.04 L435.00 272.92 L436.49 272.81 L437.97 272.69 L439.45 272.58 L440.94 272.48 L442.42 272.38 L443.90 272.29 L445.39 272.20 L446.87 272.11 L448.35 272.03 L449.84 271.96 L451.32 271.89 L452.80 271.83 L454.29 271.78 L455.77 271.73 L457.25 271.68 L458.74 271.65 L460.22 271.62 L461.70 271.60 L463.19 271.58 L464.67 271.57 L466.15 271.56 L467.64 271.56 L469.12 271.55 L470.60 271.54 L472.09 271.54 L473.57 271.53 L475.05 271.52 L476.54 271.52 L478.02 271.51 L479.50 271.51 L480.99 271.50 L482.47 271.49 L483.95 271.49 L485.44 271.48 L486.92 271.48 L488.40 271.47 L489.89 271.47 L491.37 271.47 L492.85 271.46 L494.34 271.46 L495.82 271.45 L497.30 271.45 L498.79 271.45 L500.27 271.44 L501.75 271.44 L503.24 271.44 L504.72 271.43 L506.20 271.43 L507.69 271.43 L509.17 271.42 L510.65 271.42 L512.14 271.42 L513.62 271.42 L515.10 271.41 L516.59 271.41 L518.07 271.41 L519.55 271.41 L521.04 271.41 L522.52 271.41 L524.00 271.41 L525.49 271.40 L526.97 271.40 L528.45 271.40 L529.94 271.40 L531.42 271.40 L532.90 271.40 L534.39 271.40 L535.87 271.40 L537.35 271.40" fill="none" stroke="#000000" stroke-width="0.5"/><g fill="#000000"><rect x="345.94" y="444.85" width="3.1" height="3.1"/><rect x="347.42" y="444.80" width="3.1" height="3.1"/><rect x="348.91" y="444.67" width="3.1" height="3.1"/><rect x="350.39" y="444.46" width="3.1" height="3.1"/><rect x="351.87" y="443.68" width="3.1" height="3.1"/><rect x="353.36" y="442.40" width="3.1" height="3.1"/><rect x="354.84" y="440.47" width="3.1" height="3.1"/><rect x="356.32" y="437.74" width="3.1" height="3.1"/><rect x="357.81" y="434.56" width="3.1" height="3.1"/><rect x="359.29" y="430.54" width="3.1" height="3.1"/><rect x="360.77" y="425.90" width="3.1" height="3.1"/><rect x="362.26" y="420.98" width="3.1" height="3.1"/><rect x="363.74" y="415.57" width="3.1" height="3.1"/><rect x="365.22" y="410.14" width="3.1" height="3.1"/><rect x="366.71" y="404.94" width="3.1" height="3.1"/><rect x="368.19" y="399.61" width="3.1" height="3.1"/><rect x="369.67" y="393.72" width="3.1" height="3.1"/><rect x="371.16" y="387.36" width="3.1" height="3.1"/><rect x="372.64" y="381.40" width="3.1" height="3.1"/><rect x="374.12" y="375.80" width="3.1" height="3.1"/><rect x="375.61" y="370.12" width="3.1" height="3.1"/><rect x="377.09" y="364.07" width="3.1" height="3.1"/><rect x="378.57" y="357.91" width="3.1" height="3.1"/><rect x="380.06" y="351.97" width="3.1" height="3.1"/><rect x="381.54" y="346.26" width="3.1" height="3.1"/><rect x="383.02" y="340.57" width="3.1" height="3.1"/><rect x="384.51" y="334.71" width="3.1" height="3.1"/><rect x="385.99" y="328.58" width="3.1" height="3.1"/><rect x="387.47" y="322.59" width="3.1" height="3.1"/><rect x="388.96" y="317.08" width="3.1" height="3.1"/><rect x="390.44" y="311.89" width="3.1" height="3.1"/><rect x="391.92" y="306.94" width="3.1" height="3.1"/><rect x="393.41" y="302.09" width="3.1" height="3.1"/><rect x="394.89" y="297.46" width="3.1" height="3.1"/><rect x="396.37" y="293.54" width="3.1" height="3.1"/><rect x="397.86" y="290.22" width="3.1" height="3.1"/><rect x="399.34" y="287.39" width="3.1" height="3.1"/><rect x="400.82" y="285.13" width="3.1" height="3.1"/><rect x="402.31" y="283.16" width="3.1" height="3.1"/><rect x="403.79" y="281.43" width="3.1" height="3.1"/><rect x="405.27" y="279.98" width="3.1" height="3.1"/><rect x="406.76" y="278.82" width="3.1" height="3.1"/><rect x="408.24" y="277.82" width="3.1" height="3.1"/><rect x="409.72" y="276.93" width="3.1" height="3.1"/><rect x="411.21" y="276.15" width="3.1" height="3.1"/><rect x="412.69" y="275.49" width="3.1" height="3.1"/><rect x="414.17" y="274.96" width="3.1" height="3.1"/><rect x="415.66" y="274.51" width="3.1" height="3.1"/><rect x="417.14" y="274.09" width="3.1" height="3.1"/><rect x="418.62" y="273.70" width="3.1" height="3.1"/><rect x="420.11" y="273.33" width="3.1" height="3.1"/><rect x="421.59" y="272.99" width="3.1" height="3.1"/><rect x="423.07" y="272.69" width="3.1" height="3.1"/><rect x="424.55" y="272.41" width="3.1" height="3.1"/><rect x="426.04" y="272.16" width="3.1" height="3.1"/><rect x="427.52" y="271.95" width="3.1" height="3.1"/><rect x="429.00" y="271.77" width="3.1" height="3.1"/><rect x="430.49" y="271.62" width="3.1" height="3.1"/><rect x="431.97" y="271.49" width="3.1" height="3.1"/><rect x="433.45" y="271.37" width="3.1" height="3.1"/><rect x="434.94" y="271.26" width="3.1" height="3.1"/><rect x="436.42" y="271.14" width="3.1" height="3.1"/><rect x="437.90" y="271.03" width="3.1" height="3.1"/><rect x="439.39" y="270.93" width="3.1" height="3.1"/><rect x="440.87" y="270.83" width="3.1" height="3.1"/><rect x="442.35" y="270.74" width="3.1" height="3.1"/><rect x="443.84" y="270.65" width="3.1" height="3.1"/><rect x="445.32" y="270.56" width="3.1" height="3.1"/><rect x="446.80" y="270.48" width="3.1" height="3.1"/><rect x="448.29" y="270.41" width="3.1" height="3.1"/><rect x="449.77" y="270.34" width="3.1" height="3.1"/><rect x="451.25" y="270.28" width="3.1" height="3.1"/><rect x="452.74" y="270.23" width="3.1" height="3.1"/><rect x="454.22" y="270.18" width="3.1" height="3.1"/><rect x="455.70" y="270.13" width="3.1" height="3.1"/><rect x="457.19" y="270.10" width="3.1" height="3.1"/><rect x="458.67" y="270.07" width="3.1" height="3.1"/><rect x="460.15" y="270.05" width="3.1" height="3.1"/><rect x="461.64" y="270.03" width="3.1" height="3.1"/><rect x="463.12" y="270.02" width="3.1" height="3.1"/><rect x="464.60" y="270.01" width="3.1" height="3.1"/><rect x="466.09" y="270.01" width="3.1" height="3.1"/><rect x="467.57" y="270.00" width="3.1" height="3.1"/><rect x="469.05" y="269.99" width="3.1" height="3.1"/><rect x="470.54" y="269.99" width="3.1" height="3.1"/><rect x="472.02" y="269.98" width="3.1" height="3.1"/><rect x="473.50" y="269.97" width="3.1" height="3.1"/><rect x="474.99" y="269.97" width="3.1" height="3.1"/><rect x="476.47" y="269.96" width="3.1" height="3.1"/><rect x="477.95" y="269.96" width="3.1" height="3.1"/><rect x="479.44" y="269.95" width="3.1" height="3.1"/><rect x="480.92" y="269.94" width="3.1" height="3.1"/><rect x="482.40" y="269.94" width="3.1" height="3.1"/><rect x="483.89" y="269.93" width="3.1" height="3.1"/><rect x="485.37" y="269.93" width="3.1" height="3.1"/><rect x="486.85" y="269.92" width="3.1" height="3.1"/><rect x="488.34" y="269.92" width="3.1" height="3.1"/><rect x="489.82" y="269.92" width="3.1" height="3.1"/><rect x="491.30" y="269.91" width="3.1" height="3.1"/><rect x="492.79" y="269.91" width="3.1" height="3.1"/><rect x="494.27" y="269.90" width="3.1" height="3.1"/><rect x="495.75" y="269.90" width="3.1" height="3.1"/><rect x="497.24" y="269.90" width="3.1" height="3.1"/><rect x="498.72" y="269.89" width="3.1" height="3.1"/><rect x="500.20" y="269.89" width="3.1" height="3.1"/><rect x="501.69" y="269.89" width="3.1" height="3.1"/><rect x="503.17" y="269.88" width="3.1" height="3.1"/><rect x="504.65" y="269.88" width="3.1" height="3.1"/><rect x="506.14" y="269.88" width="3.1" height="3.1"/><rect x="507.62" y="269.87" width="3.1" height="3.1"/><rect x="509.10" y="269.87" width="3.1" height="3.1"/><rect x="510.59" y="269.87" width="3.1" height="3.1"/><rect x="512.07" y="269.87" width="3.1" height="3.1"/><rect x="513.55" y="269.86" width="3.1" height="3.1"/><rect x="515.04" y="269.86" width="3.1" height="3.1"/><rect x="516.52" y="269.86" width="3.1" height="3.1"/><rect x="518.00" y="269.86" width="3.1" height="3.1"/><rect x="519.49" y="269.86" width="3.1" height="3.1"/><rect x="520.97" y="269.86" width="3.1" height="3.1"/><rect x="522.45" y="269.86" width="3.1" height="3.1"/><rect x="523.94" y="269.85" width="3.1" height="3.1"/><rect x="525.42" y="269.85" width="3.1" height="3.1"/><rect x="526.90" y="269.85" width="3.1" height="3.1"/><rect x="528.39" y="269.85" width="3.1" height="3.1"/><rect x="529.87" y="269.85" width="3.1" height="3.1"/><rect x="531.35" y="269.85" width="3.1" height="3.1"/><rect x="532.84" y="269.85" width="3.1" height="3.1"/><rect x="534.32" y="269.85" width="3.1" height="3.1"/><rect x="535.80" y="269.85" width="3.1" height="3.1"/></g><path d="M341.13 446.40 L343.25 446.31 L345.37 446.05 L347.49 445.50 L349.61 443.95 L351.73 440.70 L353.85 435.90 L355.97 429.76 L358.09 422.60 L360.20 414.48 L362.32 405.02 L364.44 395.65 L366.56 386.33 L368.68 377.03 L370.80 367.22 L372.92 357.31 L375.04 348.00 L377.16 338.27 L379.27 328.78 L381.39 319.90 L383.51 312.71 L385.63 306.84 L387.75 301.25 L389.87 296.06 L391.99 291.01 L394.11 287.27 L396.23 284.59 L398.35 282.52 L400.46 281.06 L402.58 279.89 L404.70 278.87 L406.82 278.01 L408.94 277.28 L411.06 276.68 L413.18 276.16 L415.30 275.68 L417.42 275.22 L419.54 274.81 L421.65 274.43 L423.77 274.08 L425.89 273.78 L428.01 273.53 L430.13 273.31 L432.25 273.15 L434.37 273.01 L436.49 272.88 L438.61 272.76 L440.73 272.64 L442.85 272.53 L444.96 272.42 L447.08 272.32 L449.20 272.22 L451.32 272.13 L453.44 272.05 L455.56 271.97 L457.68 271.90 L459.80 271.83 L461.92 271.77 L464.03 271.72 L466.15 271.68 L468.27 271.64 L470.39 271.61 L472.51 271.59 L474.63 271.57 L476.75 271.56 L478.87 271.55 L480.99 271.54 L483.11 271.53 L485.23 271.52 L487.34 271.51 L489.46 271.50 L491.58 271.49 L493.70 271.49 L495.82 271.48 L497.94 271.47 L500.06 271.46 L502.18 271.46 L504.30 271.45 L506.41 271.44 L508.53 271.44 L510.65 271.43 L512.77 271.43 L514.89 271.42 L517.01 271.42 L519.13 271.42 L521.25 271.41 L523.37 271.41 L525.49 271.41 L527.60 271.40 L529.72 271.40 L531.84 271.40 L533.96 271.40 L536.08 271.40 L538.20 271.40" fill="none" stroke="#ff0000" stroke-width="0.5"/><g fill="#ff0000"><circle cx="341.13" cy="446.40" r="2.00"/><circle cx="343.25" cy="446.31" r="2.00"/><circle cx="345.37" cy="446.05" r="2.00"/><circle cx="347.49" cy="445.50" r="2.00"/><circle cx="349.61" cy="443.95" r="2.00"/><circle cx="351.73" cy="440.70" r="2.00"/><circle cx="353.85" cy="435.90" r="2.00"/><circle cx="355.97" cy="429.76" r="2.00"/><circle cx="358.09" cy="422.60" r="2.00"/><circle cx="360.20" cy="414.48" r="2.00"/><circle cx="362.32" cy="405.02" r="2.00"/><circle cx="364.44" cy="395.65" r="2.00"/><circle cx="366.56" cy="386.33" r="2.00"/><circle cx="368.68" cy="377.03" r="2.00"/><circle cx="370.80" cy="367.22" r="2.00"/><circle cx="372.92" cy="357.31" r="2.00"/><circle cx="375.04" cy="348.00" r="2.00"/><circle cx="377.16" cy="338.27" r="2.00"/><circle cx="379.27" cy="328.78" r="2.00"/><circle cx="381.39" cy="319.90" r="2.00"/><circle cx="383.51" cy="312.71" r="2.00"/><circle cx="385.63" cy="306.84" r="2.00"/><circle cx="387.75" cy="301.25" r="2.00"/><circle cx="389.87" cy="296.06" r="2.00"/><circle cx="391.99" cy="291.01" r="2.00"/><circle cx="394.11" cy="287.27" r="2.00"/><circle cx="396.23" cy="284.59" r="2.00"/><circle cx="398.35" cy="282.52" r="2.00"/><circle cx="400.46" cy="281.06" r="2.00"/><circle cx="402.58" cy="279.89" r="2.00"/><circle cx="404.70" cy="278.87" r="2.00"/><circle cx="406.82" cy="278.01" r="2.00"/><circle cx="408.94" cy="277.28" r="2.00"/><circle cx="411.06" cy="276.68" r="2.00"/><circle cx="413.18" cy="276.16" r="2.00"/><circle cx="415.30" cy="275.68" r="2.00"/><circle cx="417.42" cy="275.22" r="2.00"/><circle cx="419.54" cy="274.81" r="2.00"/><circle cx="421.65" cy="274.43" r="2.00"/><circle cx="423.77" cy="274.08" r="2.00"/><circle cx="425.89" cy="273.78" r="2.00"/><circle cx="428.01" cy="273.53" r="2.00"/><circle cx="430.13" cy="273.31" r="2.00"/><circle cx="432.25" cy="273.15" r="2.00"/><circle cx="434.37" cy="273.01" r="2.00"/><circle cx="436.49" cy="272.88" r="2.00"/><circle cx="438.61" cy="272.76" r="2.00"/><circle cx="440.73" cy="272.64" r="2.00"/><circle cx="442.85" cy="272.53" r="2.00"/><circle cx="444.96" cy="272.42" r="2.00"/><circle cx="447.08" cy="272.32" r="2.00"/><circle cx="449.20" cy="272.22" r="2.00"/><circle cx="451.32" cy="272.13" r="2.00"/><circle cx="453.44" cy="272.05" r="2.00"/><circle cx="455.56" cy="271.97" r="2.00"/><circle cx="457.68" cy="271.90" r="2.00"/><circle cx="459.80" cy="271.83" r="2.00"/><circle cx="461.92" cy="271.77" r="2.00"/><circle cx="464.03" cy="271.72" r="2.00"/><circle cx="466.15" cy="271.68" r="2.00"/><circle cx="468.27" cy="271.64" r="2.00"/><circle cx="470.39" cy="271.61" r="2.00"/><circle cx="472.51" cy="271.59" r="2.00"/><circle cx="474.63" cy="271.57" r="2.00"/><circle cx="476.75" cy="271.56" r="2.00"/><circle cx="478.87" cy="271.55" r="2.00"/><circle cx="480.99" cy="271.54" r="2.00"/><circle cx="483.11" cy="271.53" r="2.00"/><circle cx="485.23" cy="271.52" r="2.00"/><circle cx="487.34" cy="271.51" r="2.00"/><circle cx="489.46" cy="271.50" r="2.00"/><circle cx="491.58" cy="271.49" r="2.00"/><circle cx="493.70" cy="271.49" r="2.00"/><circle cx="495.82" cy="271.48" r="2.00"/><circle cx="497.94" cy="271.47" r="2.00"/><circle cx="500.06" cy="271.46" r="2.00"/><circle cx="502.18" cy="271.46" r="2.00"/><circle cx="504.30" cy="271.45" r="2.00"/><circle cx="506.41" cy="271.44" r="2.00"/><circle cx="508.53" cy="271.44" r="2.00"/><circle cx="510.65" cy="271.43" r="2.00"/><circle cx="512.77" cy="271.43" r="2.00"/><circle cx="514.89" cy="271.42" r="2.00"/><circle cx="517.01" cy="271.42" r="2.00"/><circle cx="519.13" cy="271.42" r="2.00"/><circle cx="521.25" cy="271.41" r="2.00"/><circle cx="523.37" cy="271.41" r="2.00"/><circle cx="525.49" cy="271.41" r="2.00"/><circle cx="527.60" cy="271.40" r="2.00"/><circle cx="529.72" cy="271.40" r="2.00"/><circle cx="531.84" cy="271.40" r="2.00"/><circle cx="533.96" cy="271.40" r="2.00"/><circle cx="536.08" cy="271.40" r="2.00"/><circle cx="538.20" cy="271.40" r="2.00"/></g><path d="M338.48 446.40 L340.97 446.23 L343.46 445.57 L345.95 443.66 L348.44 440.13 L350.93 432.80 L353.42 423.57 L355.91 412.63 L358.40 399.09 L360.89 385.92 L363.38 374.36 L365.87 363.33 L368.36 350.33 L370.85 338.93 L373.34 327.38 L375.83 317.64 L378.32 308.88 L380.81 300.56 L383.30 294.96 L385.79 290.35 L388.28 286.50 L390.77 283.26 L393.26 281.13 L395.75 279.44 L398.24 278.12 L400.73 277.14 L403.22 276.32 L405.71 275.63 L408.20 275.04 L410.69 274.56 L413.18 274.18 L415.67 273.82 L418.16 273.50 L420.65 273.20 L423.14 272.94 L425.63 272.71 L428.12 272.52 L430.61 272.36 L433.10 272.24 L435.59 272.13 L438.08 272.02 L440.57 271.92 L443.06 271.83 L445.55 271.74 L448.04 271.66 L450.53 271.59 L453.02 271.53 L455.51 271.48 L458.00 271.44 L460.49 271.41 L462.98 271.40 L465.47 271.40 L467.96 271.40 L470.44 271.40 L472.93 271.40 L475.42 271.40 L477.91 271.40 L480.40 271.40 L482.89 271.40 L485.38 271.40 L487.87 271.40 L490.36 271.40 L492.85 271.40 L495.34 271.40 L497.83 271.40 L500.32 271.40 L502.81 271.40 L505.30 271.40 L507.79 271.40 L510.28 271.40 L512.77 271.40 L515.26 271.40 L517.75 271.40 L520.24 271.40 L522.73 271.40 L525.22 271.40 L527.71 271.40 L530.20 271.40 L532.69 271.40 L535.18 271.40 L537.67 271.40" fill="none" stroke="#008000" stroke-width="0.5"/><g fill="#008000"><path d="M338.48 443.88L340.98 448.08L335.98 448.08Z"/><path d="M340.97 443.71L343.47 447.91L338.47 447.91Z"/><path d="M343.46 443.05L345.96 447.25L340.96 447.25Z"/><path d="M345.95 441.14L348.45 445.34L343.45 445.34Z"/><path d="M348.44 437.61L350.94 441.81L345.94 441.81Z"/><path d="M350.93 430.28L353.43 434.48L348.43 434.48Z"/><path d="M353.42 421.05L355.92 425.25L350.92 425.25Z"/><path d="M355.91 410.11L358.41 414.31L353.41 414.31Z"/><path d="M358.40 396.57L360.90 400.77L355.90 400.77Z"/><path d="M360.89 383.40L363.39 387.60L358.39 387.60Z"/><path d="M363.38 371.84L365.88 376.04L360.88 376.04Z"/><path d="M365.87 360.81L368.37 365.01L363.37 365.01Z"/><path d="M368.36 347.81L370.86 352.01L365.86 352.01Z"/><path d="M370.85 336.41L373.35 340.61L368.35 340.61Z"/><path d="M373.34 324.86L375.84 329.06L370.84 329.06Z"/><path d="M375.83 315.12L378.33 319.32L373.33 319.32Z"/><path d="M378.32 306.36L380.82 310.56L375.82 310.56Z"/><path d="M380.81 298.04L383.31 302.24L378.31 302.24Z"/><path d="M383.30 292.44L385.80 296.64L380.80 296.64Z"/><path d="M385.79 287.83L388.29 292.03L383.29 292.03Z"/><path d="M388.28 283.98L390.78 288.18L385.78 288.18Z"/><path d="M390.77 280.74L393.27 284.94L388.27 284.94Z"/><path d="M393.26 278.61L395.76 282.81L390.76 282.81Z"/><path d="M395.75 276.92L398.25 281.12L393.25 281.12Z"/><path d="M398.24 275.60L400.74 279.80L395.74 279.80Z"/><path d="M400.73 274.62L403.23 278.82L398.23 278.82Z"/><path d="M403.22 273.80L405.72 278.00L400.72 278.00Z"/><path d="M405.71 273.11L408.21 277.31L403.21 277.31Z"/><path d="M408.20 272.52L410.70 276.72L405.70 276.72Z"/><path d="M410.69 272.04L413.19 276.24L408.19 276.24Z"/><path d="M413.18 271.66L415.68 275.86L410.68 275.86Z"/><path d="M415.67 271.30L418.17 275.50L413.17 275.50Z"/><path d="M418.16 270.98L420.66 275.18L415.66 275.18Z"/><path d="M420.65 270.68L423.15 274.88L418.15 274.88Z"/><path d="M423.14 270.42L425.64 274.62L420.64 274.62Z"/><path d="M425.63 270.19L428.13 274.39L423.13 274.39Z"/><path d="M428.12 270.00L430.62 274.20L425.62 274.20Z"/><path d="M430.61 269.84L433.11 274.04L428.11 274.04Z"/><path d="M433.10 269.72L435.60 273.92L430.60 273.92Z"/><path d="M435.59 269.61L438.09 273.81L433.09 273.81Z"/><path d="M438.08 269.50L440.58 273.70L435.58 273.70Z"/><path d="M440.57 269.40L443.07 273.60L438.07 273.60Z"/><path d="M443.06 269.31L445.56 273.51L440.56 273.51Z"/><path d="M445.55 269.22L448.05 273.42L443.05 273.42Z"/><path d="M448.04 269.14L450.54 273.34L445.54 273.34Z"/><path d="M450.53 269.07L453.03 273.27L448.03 273.27Z"/><path d="M453.02 269.01L455.52 273.21L450.52 273.21Z"/><path d="M455.51 268.96L458.01 273.16L453.01 273.16Z"/><path d="M458.00 268.92L460.50 273.12L455.50 273.12Z"/><path d="M460.49 268.89L462.99 273.09L457.99 273.09Z"/><path d="M462.98 268.88L465.48 273.08L460.48 273.08Z"/><path d="M465.47 268.88L467.97 273.08L462.97 273.08Z"/><path d="M467.96 268.88L470.46 273.08L465.46 273.08Z"/><path d="M470.44 268.88L472.94 273.08L467.94 273.08Z"/><path d="M472.93 268.88L475.43 273.08L470.43 273.08Z"/><path d="M475.42 268.88L477.92 273.08L472.92 273.08Z"/><path d="M477.91 268.88L480.41 273.08L475.41 273.08Z"/><path d="M480.40 268.88L482.90 273.08L477.90 273.08Z"/><path d="M482.89 268.88L485.39 273.08L480.39 273.08Z"/><path d="M485.38 268.88L487.88 273.08L482.88 273.08Z"/><path d="M487.87 268.88L490.37 273.08L485.37 273.08Z"/><path d="M490.36 268.88L492.86 273.08L487.86 273.08Z"/><path d="M492.85 268.88L495.35 273.08L490.35 273.08Z"/><path d="M495.34 268.88L497.84 273.08L492.84 273.08Z"/><path d="M497.83 268.88L500.33 273.08L495.33 273.08Z"/><path d="M500.32 268.88L502.82 273.08L497.82 273.08Z"/><path d="M502.81 268.88L505.31 273.08L500.31 273.08Z"/><path d="M505.30 268.88L507.80 273.08L502.80 273.08Z"/><path d="M507.79 268.88L510.29 273.08L505.29 273.08Z"/><path d="M510.28 268.88L512.78 273.08L507.78 273.08Z"/><path d="M512.77 268.88L515.27 273.08L510.27 273.08Z"/><path d="M515.26 268.88L517.76 273.08L512.76 273.08Z"/><path d="M517.75 268.88L520.25 273.08L515.25 273.08Z"/><path d="M520.24 268.88L522.74 273.08L517.74 273.08Z"/><path d="M522.73 268.88L525.23 273.08L520.23 273.08Z"/><path d="M525.22 268.88L527.72 273.08L522.72 273.08Z"/><path d="M527.71 268.88L530.21 273.08L525.21 273.08Z"/><path d="M530.20 268.88L532.70 273.08L527.70 273.08Z"/><path d="M532.69 268.88L535.19 273.08L530.19 273.08Z"/><path d="M535.18 268.88L537.68 273.08L532.68 273.08Z"/><path d="M537.67 268.88L540.17 273.08L535.17 273.08Z"/></g></g><rect x="326.3" y="271.4" width="211.90" height="175.00" fill="none" stroke="#3c3c3c" stroke-width="1"/><path d="M326.30 446.4v3M326.30 271.4v3M339.54 446.4v1.5M339.54 271.4v1.2M352.79 446.4v3M352.79 271.4v3M366.03 446.4v1.5M366.03 271.4v1.2M379.28 446.4v3M379.28 271.4v3M392.52 446.4v1.5M392.52 271.4v1.2M405.76 446.4v3M405.76 271.4v3M419.01 446.4v1.5M419.01 271.4v1.2M432.25 446.4v3M432.25 271.4v3M445.49 446.4v1.5M445.49 271.4v1.2M458.74 446.4v3M458.74 271.4v3M471.98 446.4v1.5M471.98 271.4v1.2M485.23 446.4v3M485.23 271.4v3M498.47 446.4v1.5M498.47 271.4v1.2M511.71 446.4v3M511.71 271.4v3M524.96 446.4v1.5M524.96 271.4v1.2M538.20 446.4v3M538.20 271.4v3M326.3 446.40h-3M538.2 446.40h-3M326.3 428.90h-1.5M538.2 428.90h-1.2M326.3 411.40h-3M538.2 411.40h-3M326.3 393.90h-1.5M538.2 393.90h-1.2M326.3 376.40h-3M538.2 376.40h-3M326.3 358.90h-1.5M538.2 358.90h-1.2M326.3 341.40h-3M538.2 341.40h-3M326.3 323.90h-1.5M538.2 323.90h-1.2M326.3 306.40h-3M538.2 306.40h-3M326.3 288.90h-1.5M538.2 288.90h-1.2M326.3 271.40h-3M538.2 271.40h-3" stroke="#3c3c3c" stroke-width="1" fill="none"/><g font-family='"Liberation Sans", Arial, Helvetica, sans-serif' font-size="14.2" fill="#000"><text x="326.30" y="463.40" text-anchor="middle">0.0</text><text x="352.79" y="463.40" text-anchor="middle">0.5</text><text x="379.28" y="463.40" text-anchor="middle">1.0</text><text x="405.76" y="463.40" text-anchor="middle">1.5</text><text x="432.25" y="463.40" text-anchor="middle">2.0</text><text x="458.74" y="463.40" text-anchor="middle">2.5</text><text x="485.23" y="463.40" text-anchor="middle">3.0</text><text x="511.71" y="463.40" text-anchor="middle">3.5</text><text x="538.20" y="463.40" text-anchor="middle">4.0</text><text x="320.70" y="451.00" text-anchor="end">0.0</text><text x="320.70" y="416.00" text-anchor="end">0.2</text><text x="320.70" y="381.00" text-anchor="end">0.4</text><text x="320.70" y="346.00" text-anchor="end">0.6</text><text x="320.70" y="311.00" text-anchor="end">0.8</text><text x="320.70" y="276.00" text-anchor="end">1.0</text></g><text x="432.25" y="484.80" text-anchor="middle" font-family='"Liberation Sans", Arial, Helvetica, sans-serif' font-size="16.9">Particle residence time t / s</text><text transform="translate(294.90 358.90) rotate(-90)" x="0" y="0" text-anchor="middle" font-family='"Liberation Sans", Arial, Helvetica, sans-serif' font-size="16.9">Cumulative distribution F(t) / -</text><text x="329.30" y="287.70" font-family='"Liberation Sans", Arial, Helvetica, sans-serif' font-size="15.8">d</text><rect x="393.4" y="351.1" width="98.70" height="75.40" fill="#fff" stroke="#8a8a8a" stroke-width="1"/><text x="396.00" y="365.50" font-family='"Liberation Sans", Arial, Helvetica, sans-serif' font-size="14.3">ṁ<tspan font-size="9.6" dx="0" dy="3.6">aerosol</tspan></text><path d="M395.80 381.90H426.40" stroke="#707070" stroke-width="1"/><g fill="#000000"><rect x="409.55" y="380.35" width="3.1" height="3.1"/></g><text x="431.00" y="386.70" font-family='"Liberation Sans", Arial, Helvetica, sans-serif' font-size="14.3">1.35 kg/h</text><path d="M395.80 399.10H426.40" stroke="#ff8080" stroke-width="1"/><g fill="#ff0000"><circle cx="411.10" cy="399.10" r="1.50"/></g><text x="431.00" y="403.90" font-family='"Liberation Sans", Arial, Helvetica, sans-serif' font-size="14.3">2.28 kg/h</text><path d="M395.80 416.30H426.40" stroke="#80c080" stroke-width="1"/><g fill="#008000"><path d="M411.10 414.03L413.35 417.81L408.85 417.81Z"/></g><text x="431.00" y="421.10" font-family='"Liberation Sans", Arial, Helvetica, sans-serif' font-size="14.3">2.91 kg/h</text></svg>
</body></html>
